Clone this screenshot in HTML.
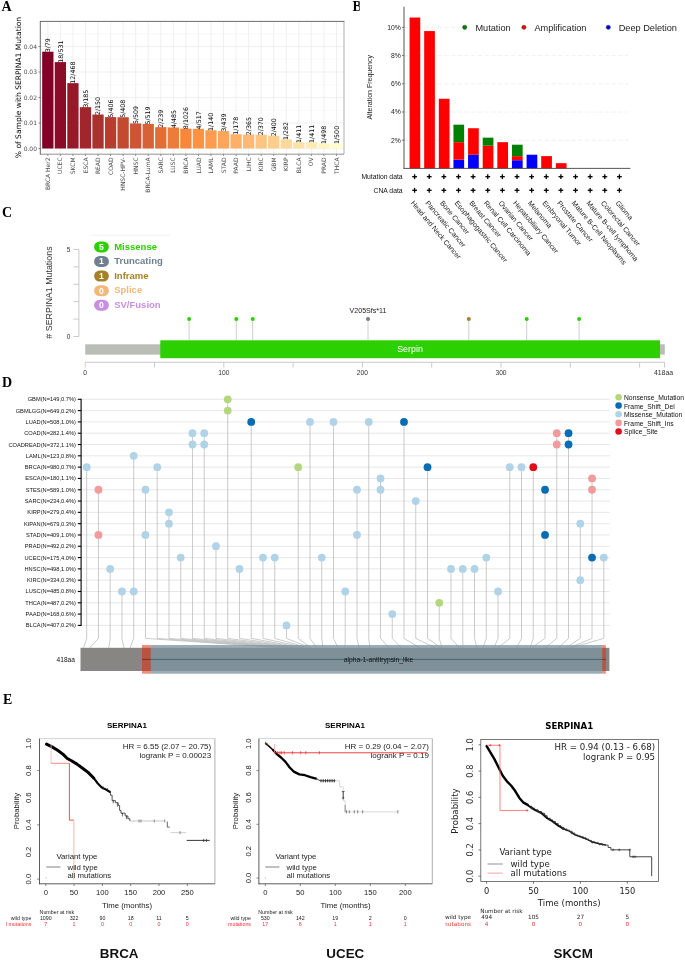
<!DOCTYPE html>
<html lang="en"><head><meta charset="utf-8"><title>SERPINA1 mutation figure</title>
<style>html,body{margin:0;padding:0;background:#fff}svg{display:block}</style></head>
<body>
<svg width="685" height="960" viewBox="0 0 685 960">
<defs><clipPath id="clipB"><rect x="345" y="0" width="14.7" height="20"/></clipPath><clipPath id="clipE1"><rect x="6" y="900" width="60" height="40"/></clipPath><clipPath id="clipE2"><rect x="225.9" y="900" width="60" height="40"/></clipPath><clipPath id="clipE3"><rect x="445.2" y="700" width="60" height="260"/></clipPath></defs>
<rect x="0.00" y="0.00" width="685.00" height="960.00" fill="#fff" />
<rect x="40.30" y="21.40" width="303.70" height="132.80" fill="#fff" />
<line x1="40.30" y1="148.50" x2="344.00" y2="148.50" stroke="#e9e9e9" stroke-width="0.7" />
<line x1="40.30" y1="135.75" x2="344.00" y2="135.75" stroke="#f1f1f1" stroke-width="0.45" />
<line x1="40.30" y1="123.01" x2="344.00" y2="123.01" stroke="#e9e9e9" stroke-width="0.7" />
<line x1="40.30" y1="110.27" x2="344.00" y2="110.27" stroke="#f1f1f1" stroke-width="0.45" />
<line x1="40.30" y1="97.52" x2="344.00" y2="97.52" stroke="#e9e9e9" stroke-width="0.7" />
<line x1="40.30" y1="84.78" x2="344.00" y2="84.78" stroke="#f1f1f1" stroke-width="0.45" />
<line x1="40.30" y1="72.03" x2="344.00" y2="72.03" stroke="#e9e9e9" stroke-width="0.7" />
<line x1="40.30" y1="59.28" x2="344.00" y2="59.28" stroke="#f1f1f1" stroke-width="0.45" />
<line x1="40.30" y1="46.54" x2="344.00" y2="46.54" stroke="#e9e9e9" stroke-width="0.7" />
<line x1="40.30" y1="33.80" x2="344.00" y2="33.80" stroke="#f1f1f1" stroke-width="0.45" />
<line x1="47.83" y1="21.40" x2="47.83" y2="154.20" stroke="#e9e9e9" stroke-width="0.7" />
<line x1="60.38" y1="21.40" x2="60.38" y2="154.20" stroke="#e9e9e9" stroke-width="0.7" />
<line x1="72.93" y1="21.40" x2="72.93" y2="154.20" stroke="#e9e9e9" stroke-width="0.7" />
<line x1="85.48" y1="21.40" x2="85.48" y2="154.20" stroke="#e9e9e9" stroke-width="0.7" />
<line x1="98.03" y1="21.40" x2="98.03" y2="154.20" stroke="#e9e9e9" stroke-width="0.7" />
<line x1="110.58" y1="21.40" x2="110.58" y2="154.20" stroke="#e9e9e9" stroke-width="0.7" />
<line x1="123.13" y1="21.40" x2="123.13" y2="154.20" stroke="#e9e9e9" stroke-width="0.7" />
<line x1="135.68" y1="21.40" x2="135.68" y2="154.20" stroke="#e9e9e9" stroke-width="0.7" />
<line x1="148.23" y1="21.40" x2="148.23" y2="154.20" stroke="#e9e9e9" stroke-width="0.7" />
<line x1="160.78" y1="21.40" x2="160.78" y2="154.20" stroke="#e9e9e9" stroke-width="0.7" />
<line x1="173.33" y1="21.40" x2="173.33" y2="154.20" stroke="#e9e9e9" stroke-width="0.7" />
<line x1="185.88" y1="21.40" x2="185.88" y2="154.20" stroke="#e9e9e9" stroke-width="0.7" />
<line x1="198.42" y1="21.40" x2="198.42" y2="154.20" stroke="#e9e9e9" stroke-width="0.7" />
<line x1="210.97" y1="21.40" x2="210.97" y2="154.20" stroke="#e9e9e9" stroke-width="0.7" />
<line x1="223.52" y1="21.40" x2="223.52" y2="154.20" stroke="#e9e9e9" stroke-width="0.7" />
<line x1="236.07" y1="21.40" x2="236.07" y2="154.20" stroke="#e9e9e9" stroke-width="0.7" />
<line x1="248.62" y1="21.40" x2="248.62" y2="154.20" stroke="#e9e9e9" stroke-width="0.7" />
<line x1="261.17" y1="21.40" x2="261.17" y2="154.20" stroke="#e9e9e9" stroke-width="0.7" />
<line x1="273.72" y1="21.40" x2="273.72" y2="154.20" stroke="#e9e9e9" stroke-width="0.7" />
<line x1="286.27" y1="21.40" x2="286.27" y2="154.20" stroke="#e9e9e9" stroke-width="0.7" />
<line x1="298.82" y1="21.40" x2="298.82" y2="154.20" stroke="#e9e9e9" stroke-width="0.7" />
<line x1="311.37" y1="21.40" x2="311.37" y2="154.20" stroke="#e9e9e9" stroke-width="0.7" />
<line x1="323.92" y1="21.40" x2="323.92" y2="154.20" stroke="#e9e9e9" stroke-width="0.7" />
<line x1="336.47" y1="21.40" x2="336.47" y2="154.20" stroke="#e9e9e9" stroke-width="0.7" />
<rect x="42.18" y="51.70" width="11.29" height="96.80" fill="#800026" />
<text x="50.03" y="52.30" font-size="6.3" font-family="DejaVu Sans, sans-serif" fill="#000" transform="rotate(-90 50.03 52.30)">3/79</text>
<line x1="47.83" y1="154.20" x2="47.83" y2="156.00" stroke="#444" stroke-width="0.6" />
<text x="49.93" y="157.40" font-size="6" font-family="DejaVu Sans, sans-serif" fill="#4d4d4d" text-anchor="end" transform="rotate(-90 49.93 157.40)">BRCA Her2</text>
<rect x="54.73" y="62.09" width="11.29" height="86.41" fill="#8b0c28" />
<text x="62.58" y="62.69" font-size="6.3" font-family="DejaVu Sans, sans-serif" fill="#000" transform="rotate(-90 62.58 62.69)">18/531</text>
<line x1="60.38" y1="154.20" x2="60.38" y2="156.00" stroke="#444" stroke-width="0.6" />
<text x="62.48" y="157.40" font-size="6" font-family="DejaVu Sans, sans-serif" fill="#4d4d4d" text-anchor="end" transform="rotate(-90 62.48 157.40)">UCEC</text>
<rect x="67.28" y="83.14" width="11.29" height="65.36" fill="#96192a" />
<text x="75.13" y="83.74" font-size="6.3" font-family="DejaVu Sans, sans-serif" fill="#000" transform="rotate(-90 75.13 83.74)">12/468</text>
<line x1="72.93" y1="154.20" x2="72.93" y2="156.00" stroke="#444" stroke-width="0.6" />
<text x="75.03" y="157.40" font-size="6" font-family="DejaVu Sans, sans-serif" fill="#4d4d4d" text-anchor="end" transform="rotate(-90 75.03 157.40)">SKCM</text>
<rect x="79.83" y="107.16" width="11.29" height="41.34" fill="#a1252c" />
<text x="87.68" y="107.76" font-size="6.3" font-family="DejaVu Sans, sans-serif" fill="#000" transform="rotate(-90 87.68 107.76)">3/185</text>
<line x1="85.48" y1="154.20" x2="85.48" y2="156.00" stroke="#444" stroke-width="0.6" />
<text x="87.58" y="157.40" font-size="6" font-family="DejaVu Sans, sans-serif" fill="#4d4d4d" text-anchor="end" transform="rotate(-90 87.58 157.40)">ESCA</text>
<rect x="92.38" y="114.51" width="11.29" height="33.99" fill="#ab312e" />
<text x="100.23" y="115.11" font-size="6.3" font-family="DejaVu Sans, sans-serif" fill="#000" transform="rotate(-90 100.23 115.11)">2/150</text>
<line x1="98.03" y1="154.20" x2="98.03" y2="156.00" stroke="#444" stroke-width="0.6" />
<text x="100.13" y="157.40" font-size="6" font-family="DejaVu Sans, sans-serif" fill="#4d4d4d" text-anchor="end" transform="rotate(-90 100.13 157.40)">READ</text>
<rect x="104.93" y="117.11" width="11.29" height="31.39" fill="#b63d30" />
<text x="112.78" y="117.71" font-size="6.3" font-family="DejaVu Sans, sans-serif" fill="#000" transform="rotate(-90 112.78 117.71)">5/406</text>
<line x1="110.58" y1="154.20" x2="110.58" y2="156.00" stroke="#444" stroke-width="0.6" />
<text x="112.68" y="157.40" font-size="6" font-family="DejaVu Sans, sans-serif" fill="#4d4d4d" text-anchor="end" transform="rotate(-90 112.68 157.40)">COAD</text>
<rect x="117.48" y="117.26" width="11.29" height="31.24" fill="#c14a31" />
<text x="125.33" y="117.86" font-size="6.3" font-family="DejaVu Sans, sans-serif" fill="#000" transform="rotate(-90 125.33 117.86)">5/408</text>
<line x1="123.13" y1="154.20" x2="123.13" y2="156.00" stroke="#444" stroke-width="0.6" />
<text x="125.23" y="157.40" font-size="6" font-family="DejaVu Sans, sans-serif" fill="#4d4d4d" text-anchor="end" transform="rotate(-90 125.23 157.40)">HNSC-HPV-</text>
<rect x="130.03" y="123.46" width="11.29" height="25.04" fill="#cc5633" />
<text x="137.88" y="124.06" font-size="6.3" font-family="DejaVu Sans, sans-serif" fill="#000" transform="rotate(-90 137.88 124.06)">5/509</text>
<line x1="135.68" y1="154.20" x2="135.68" y2="156.00" stroke="#444" stroke-width="0.6" />
<text x="137.78" y="157.40" font-size="6" font-family="DejaVu Sans, sans-serif" fill="#4d4d4d" text-anchor="end" transform="rotate(-90 137.78 157.40)">HNSC</text>
<rect x="142.58" y="123.94" width="11.29" height="24.56" fill="#d76235" />
<text x="150.43" y="124.54" font-size="6.3" font-family="DejaVu Sans, sans-serif" fill="#000" transform="rotate(-90 150.43 124.54)">5/519</text>
<line x1="148.23" y1="154.20" x2="148.23" y2="156.00" stroke="#444" stroke-width="0.6" />
<text x="150.33" y="157.40" font-size="6" font-family="DejaVu Sans, sans-serif" fill="#4d4d4d" text-anchor="end" transform="rotate(-90 150.33 157.40)">BRCA-LumA</text>
<rect x="155.13" y="127.17" width="11.29" height="21.33" fill="#e26e37" />
<text x="162.98" y="127.77" font-size="6.3" font-family="DejaVu Sans, sans-serif" fill="#000" transform="rotate(-90 162.98 127.77)">2/239</text>
<line x1="160.78" y1="154.20" x2="160.78" y2="156.00" stroke="#444" stroke-width="0.6" />
<text x="162.88" y="157.40" font-size="6" font-family="DejaVu Sans, sans-serif" fill="#4d4d4d" text-anchor="end" transform="rotate(-90 162.88 157.40)">SARC</text>
<rect x="167.68" y="127.48" width="11.29" height="21.02" fill="#ed7b39" />
<text x="175.53" y="128.08" font-size="6.3" font-family="DejaVu Sans, sans-serif" fill="#000" transform="rotate(-90 175.53 128.08)">4/485</text>
<line x1="173.33" y1="154.20" x2="173.33" y2="156.00" stroke="#444" stroke-width="0.6" />
<text x="175.43" y="157.40" font-size="6" font-family="DejaVu Sans, sans-serif" fill="#4d4d4d" text-anchor="end" transform="rotate(-90 175.43 157.40)">LUSC</text>
<rect x="180.23" y="128.62" width="11.29" height="19.88" fill="#f8873b" />
<text x="188.08" y="129.22" font-size="6.3" font-family="DejaVu Sans, sans-serif" fill="#000" transform="rotate(-90 188.08 129.22)">8/1026</text>
<line x1="185.88" y1="154.20" x2="185.88" y2="156.00" stroke="#444" stroke-width="0.6" />
<text x="187.98" y="157.40" font-size="6" font-family="DejaVu Sans, sans-serif" fill="#4d4d4d" text-anchor="end" transform="rotate(-90 187.98 157.40)">BRCA</text>
<rect x="192.78" y="128.78" width="11.29" height="19.72" fill="#fd9242" />
<text x="200.62" y="129.38" font-size="6.3" font-family="DejaVu Sans, sans-serif" fill="#000" transform="rotate(-90 200.62 129.38)">4/517</text>
<line x1="198.42" y1="154.20" x2="198.42" y2="156.00" stroke="#444" stroke-width="0.6" />
<text x="200.52" y="157.40" font-size="6" font-family="DejaVu Sans, sans-serif" fill="#4d4d4d" text-anchor="end" transform="rotate(-90 200.52 157.40)">LUAD</text>
<rect x="205.33" y="130.29" width="11.29" height="18.21" fill="#fd9c4f" />
<text x="213.17" y="130.89" font-size="6.3" font-family="DejaVu Sans, sans-serif" fill="#000" transform="rotate(-90 213.17 130.89)">1/140</text>
<line x1="210.97" y1="154.20" x2="210.97" y2="156.00" stroke="#444" stroke-width="0.6" />
<text x="213.07" y="157.40" font-size="6" font-family="DejaVu Sans, sans-serif" fill="#4d4d4d" text-anchor="end" transform="rotate(-90 213.07 157.40)">LAML</text>
<rect x="217.88" y="131.08" width="11.29" height="17.42" fill="#fda65b" />
<text x="225.72" y="131.68" font-size="6.3" font-family="DejaVu Sans, sans-serif" fill="#000" transform="rotate(-90 225.72 131.68)">3/439</text>
<line x1="223.52" y1="154.20" x2="223.52" y2="156.00" stroke="#444" stroke-width="0.6" />
<text x="225.62" y="157.40" font-size="6" font-family="DejaVu Sans, sans-serif" fill="#4d4d4d" text-anchor="end" transform="rotate(-90 225.62 157.40)">STAD</text>
<rect x="230.43" y="134.18" width="11.29" height="14.32" fill="#feb068" />
<text x="238.27" y="134.78" font-size="6.3" font-family="DejaVu Sans, sans-serif" fill="#000" transform="rotate(-90 238.27 134.78)">1/178</text>
<line x1="236.07" y1="154.20" x2="236.07" y2="156.00" stroke="#444" stroke-width="0.6" />
<text x="238.17" y="157.40" font-size="6" font-family="DejaVu Sans, sans-serif" fill="#4d4d4d" text-anchor="end" transform="rotate(-90 238.17 157.40)">PAAD</text>
<rect x="242.98" y="134.53" width="11.29" height="13.97" fill="#feba74" />
<text x="250.82" y="135.13" font-size="6.3" font-family="DejaVu Sans, sans-serif" fill="#000" transform="rotate(-90 250.82 135.13)">2/365</text>
<line x1="248.62" y1="154.20" x2="248.62" y2="156.00" stroke="#444" stroke-width="0.6" />
<text x="250.72" y="157.40" font-size="6" font-family="DejaVu Sans, sans-serif" fill="#4d4d4d" text-anchor="end" transform="rotate(-90 250.72 157.40)">LIHC</text>
<rect x="255.53" y="134.72" width="11.29" height="13.78" fill="#fec481" />
<text x="263.37" y="135.32" font-size="6.3" font-family="DejaVu Sans, sans-serif" fill="#000" transform="rotate(-90 263.37 135.32)">2/370</text>
<line x1="261.17" y1="154.20" x2="261.17" y2="156.00" stroke="#444" stroke-width="0.6" />
<text x="263.27" y="157.40" font-size="6" font-family="DejaVu Sans, sans-serif" fill="#4d4d4d" text-anchor="end" transform="rotate(-90 263.27 157.40)">KIRC</text>
<rect x="268.07" y="135.75" width="11.29" height="12.75" fill="#fecd8d" />
<text x="275.92" y="136.35" font-size="6.3" font-family="DejaVu Sans, sans-serif" fill="#000" transform="rotate(-90 275.92 136.35)">2/400</text>
<line x1="273.72" y1="154.20" x2="273.72" y2="156.00" stroke="#444" stroke-width="0.6" />
<text x="275.82" y="157.40" font-size="6" font-family="DejaVu Sans, sans-serif" fill="#4d4d4d" text-anchor="end" transform="rotate(-90 275.82 157.40)">GBM</text>
<rect x="280.62" y="139.46" width="11.29" height="9.04" fill="#fed79a" />
<text x="288.47" y="140.06" font-size="6.3" font-family="DejaVu Sans, sans-serif" fill="#000" transform="rotate(-90 288.47 140.06)">1/282</text>
<line x1="286.27" y1="154.20" x2="286.27" y2="156.00" stroke="#444" stroke-width="0.6" />
<text x="288.37" y="157.40" font-size="6" font-family="DejaVu Sans, sans-serif" fill="#4d4d4d" text-anchor="end" transform="rotate(-90 288.37 157.40)">KIRP</text>
<rect x="293.17" y="142.30" width="11.29" height="6.20" fill="#fee1a6" />
<text x="301.02" y="142.90" font-size="6.3" font-family="DejaVu Sans, sans-serif" fill="#000" transform="rotate(-90 301.02 142.90)">1/411</text>
<line x1="298.82" y1="154.20" x2="298.82" y2="156.00" stroke="#444" stroke-width="0.6" />
<text x="300.92" y="157.40" font-size="6" font-family="DejaVu Sans, sans-serif" fill="#4d4d4d" text-anchor="end" transform="rotate(-90 300.92 157.40)">BLCA</text>
<rect x="305.72" y="142.30" width="11.29" height="6.20" fill="#ffebb3" />
<text x="313.57" y="142.90" font-size="6.3" font-family="DejaVu Sans, sans-serif" fill="#000" transform="rotate(-90 313.57 142.90)">1/411</text>
<line x1="311.37" y1="154.20" x2="311.37" y2="156.00" stroke="#444" stroke-width="0.6" />
<text x="313.47" y="157.40" font-size="6" font-family="DejaVu Sans, sans-serif" fill="#4d4d4d" text-anchor="end" transform="rotate(-90 313.47 157.40)">OV</text>
<rect x="318.27" y="143.38" width="11.29" height="5.12" fill="#fff5bf" />
<text x="326.12" y="143.98" font-size="6.3" font-family="DejaVu Sans, sans-serif" fill="#000" transform="rotate(-90 326.12 143.98)">1/498</text>
<line x1="323.92" y1="154.20" x2="323.92" y2="156.00" stroke="#444" stroke-width="0.6" />
<text x="326.02" y="157.40" font-size="6" font-family="DejaVu Sans, sans-serif" fill="#4d4d4d" text-anchor="end" transform="rotate(-90 326.02 157.40)">PRAD</text>
<rect x="330.82" y="143.40" width="11.29" height="5.10" fill="#ffffcc" />
<text x="338.67" y="144.00" font-size="6.3" font-family="DejaVu Sans, sans-serif" fill="#000" transform="rotate(-90 338.67 144.00)">1/500</text>
<line x1="336.47" y1="154.20" x2="336.47" y2="156.00" stroke="#444" stroke-width="0.6" />
<text x="338.57" y="157.40" font-size="6" font-family="DejaVu Sans, sans-serif" fill="#4d4d4d" text-anchor="end" transform="rotate(-90 338.57 157.40)">THCA</text>
<line x1="40.30" y1="154.20" x2="344.00" y2="154.20" stroke="#777" stroke-width="0.8" />
<line x1="344.00" y1="21.40" x2="344.00" y2="154.20" stroke="#999" stroke-width="0.8" />
<line x1="39.90" y1="21.40" x2="344.40" y2="21.40" stroke="#444" stroke-width="0.8" />
<line x1="40.30" y1="21.40" x2="40.30" y2="154.60" stroke="#444" stroke-width="0.8" />
<line x1="38.50" y1="148.50" x2="40.30" y2="148.50" stroke="#444" stroke-width="0.6" />
<text x="37.00" y="150.60" font-size="6" font-family="DejaVu Sans, sans-serif" fill="#4d4d4d" text-anchor="end">0.00</text>
<line x1="38.50" y1="123.01" x2="40.30" y2="123.01" stroke="#444" stroke-width="0.6" />
<text x="37.00" y="125.11" font-size="6" font-family="DejaVu Sans, sans-serif" fill="#4d4d4d" text-anchor="end">0.01</text>
<line x1="38.50" y1="97.52" x2="40.30" y2="97.52" stroke="#444" stroke-width="0.6" />
<text x="37.00" y="99.62" font-size="6" font-family="DejaVu Sans, sans-serif" fill="#4d4d4d" text-anchor="end">0.02</text>
<line x1="38.50" y1="72.03" x2="40.30" y2="72.03" stroke="#444" stroke-width="0.6" />
<text x="37.00" y="74.13" font-size="6" font-family="DejaVu Sans, sans-serif" fill="#4d4d4d" text-anchor="end">0.03</text>
<line x1="38.50" y1="46.54" x2="40.30" y2="46.54" stroke="#444" stroke-width="0.6" />
<text x="37.00" y="48.64" font-size="6" font-family="DejaVu Sans, sans-serif" fill="#4d4d4d" text-anchor="end">0.04</text>
<text x="20.90" y="87.50" font-size="7.55" font-family="DejaVu Sans, sans-serif" fill="#000" text-anchor="middle" transform="rotate(-90 20.90 87.50)">% of Sample with SERPINA1 Mutation</text>
<line x1="404.00" y1="140.20" x2="628.00" y2="140.20" stroke="#ececec" stroke-width="0.8" stroke-dasharray="4.5 2.2"/>
<line x1="404.00" y1="112.00" x2="628.00" y2="112.00" stroke="#ececec" stroke-width="0.8" stroke-dasharray="4.5 2.2"/>
<line x1="404.00" y1="83.80" x2="628.00" y2="83.80" stroke="#ececec" stroke-width="0.8" stroke-dasharray="4.5 2.2"/>
<line x1="404.00" y1="55.60" x2="628.00" y2="55.60" stroke="#ececec" stroke-width="0.8" stroke-dasharray="4.5 2.2"/>
<line x1="404.00" y1="27.40" x2="628.00" y2="27.40" stroke="#ececec" stroke-width="0.8" stroke-dasharray="4.5 2.2"/>
<rect x="409.55" y="17.53" width="10.70" height="150.87" fill="#ff0000" />
<rect x="424.18" y="31.07" width="10.70" height="137.33" fill="#ff0000" />
<rect x="438.81" y="98.75" width="10.70" height="69.65" fill="#ff0000" />
<rect x="453.44" y="159.66" width="10.70" height="8.74" fill="#0000ff" />
<rect x="453.44" y="142.17" width="10.70" height="17.48" fill="#ff0000" />
<rect x="453.44" y="124.69" width="10.70" height="17.48" fill="#008000" />
<rect x="468.07" y="154.72" width="10.70" height="13.68" fill="#0000ff" />
<rect x="468.07" y="128.22" width="10.70" height="26.51" fill="#ff0000" />
<rect x="482.70" y="145.70" width="10.70" height="22.70" fill="#ff0000" />
<rect x="482.70" y="137.66" width="10.70" height="8.04" fill="#008000" />
<rect x="497.33" y="142.17" width="10.70" height="26.23" fill="#ff0000" />
<rect x="511.96" y="160.22" width="10.70" height="8.18" fill="#0000ff" />
<rect x="511.96" y="156.13" width="10.70" height="4.09" fill="#ff0000" />
<rect x="511.96" y="144.71" width="10.70" height="11.42" fill="#008000" />
<rect x="526.59" y="154.72" width="10.70" height="13.68" fill="#0000ff" />
<rect x="541.22" y="156.13" width="10.70" height="12.27" fill="#ff0000" />
<rect x="555.85" y="163.18" width="10.70" height="5.22" fill="#ff0000" />
<line x1="404.00" y1="6.70" x2="404.00" y2="168.80" stroke="#444" stroke-width="0.9" />
<line x1="403.60" y1="168.40" x2="630.40" y2="168.40" stroke="#444" stroke-width="0.9" />
<line x1="402.00" y1="140.20" x2="404.00" y2="140.20" stroke="#444" stroke-width="0.7" />
<text x="400.80" y="142.60" font-size="6.8" font-family="Liberation Sans, Arial, sans-serif" fill="#222" text-anchor="end">2%</text>
<line x1="402.00" y1="112.00" x2="404.00" y2="112.00" stroke="#444" stroke-width="0.7" />
<text x="400.80" y="114.40" font-size="6.8" font-family="Liberation Sans, Arial, sans-serif" fill="#222" text-anchor="end">4%</text>
<line x1="402.00" y1="83.80" x2="404.00" y2="83.80" stroke="#444" stroke-width="0.7" />
<text x="400.80" y="86.20" font-size="6.8" font-family="Liberation Sans, Arial, sans-serif" fill="#222" text-anchor="end">6%</text>
<line x1="402.00" y1="55.60" x2="404.00" y2="55.60" stroke="#444" stroke-width="0.7" />
<text x="400.80" y="58.00" font-size="6.8" font-family="Liberation Sans, Arial, sans-serif" fill="#222" text-anchor="end">8%</text>
<line x1="402.00" y1="27.40" x2="404.00" y2="27.40" stroke="#444" stroke-width="0.7" />
<text x="400.80" y="29.80" font-size="6.8" font-family="Liberation Sans, Arial, sans-serif" fill="#222" text-anchor="end">10%</text>
<text x="372.30" y="87.30" font-size="7" font-family="Liberation Sans, Arial, sans-serif" fill="#222" text-anchor="middle" transform="rotate(-90 372.30 87.30)">Alteration Frequency</text>
<rect x="460.00" y="19.00" width="225.00" height="16.00" fill="#fff" />
<circle cx="464.70" cy="27.30" r="2.1" fill="#008000" stroke="#333" stroke-width="0.5"/>
<text x="475.40" y="30.50" font-size="9.2" font-family="Liberation Sans, Arial, sans-serif" fill="#222">Mutation</text>
<circle cx="523.90" cy="27.30" r="2.1" fill="#ff0000" stroke="#333" stroke-width="0.5"/>
<text x="534.40" y="30.50" font-size="9.2" font-family="Liberation Sans, Arial, sans-serif" fill="#222">Amplification</text>
<circle cx="608.30" cy="27.30" r="2.1" fill="#0000ff" stroke="#333" stroke-width="0.5"/>
<text x="618.70" y="30.50" font-size="9.2" font-family="Liberation Sans, Arial, sans-serif" fill="#222">Deep Deletion</text>
<text x="402.60" y="179.10" font-size="6.8" font-family="Liberation Sans, Arial, sans-serif" fill="#111" text-anchor="end">Mutation data</text>
<line x1="412.20" y1="176.70" x2="417.00" y2="176.70" stroke="#000" stroke-width="1.3" />
<line x1="414.60" y1="174.30" x2="414.60" y2="179.10" stroke="#000" stroke-width="1.3" />
<line x1="426.83" y1="176.70" x2="431.63" y2="176.70" stroke="#000" stroke-width="1.3" />
<line x1="429.23" y1="174.30" x2="429.23" y2="179.10" stroke="#000" stroke-width="1.3" />
<line x1="441.46" y1="176.70" x2="446.26" y2="176.70" stroke="#000" stroke-width="1.3" />
<line x1="443.86" y1="174.30" x2="443.86" y2="179.10" stroke="#000" stroke-width="1.3" />
<line x1="456.09" y1="176.70" x2="460.89" y2="176.70" stroke="#000" stroke-width="1.3" />
<line x1="458.49" y1="174.30" x2="458.49" y2="179.10" stroke="#000" stroke-width="1.3" />
<line x1="470.72" y1="176.70" x2="475.52" y2="176.70" stroke="#000" stroke-width="1.3" />
<line x1="473.12" y1="174.30" x2="473.12" y2="179.10" stroke="#000" stroke-width="1.3" />
<line x1="485.35" y1="176.70" x2="490.15" y2="176.70" stroke="#000" stroke-width="1.3" />
<line x1="487.75" y1="174.30" x2="487.75" y2="179.10" stroke="#000" stroke-width="1.3" />
<line x1="499.98" y1="176.70" x2="504.78" y2="176.70" stroke="#000" stroke-width="1.3" />
<line x1="502.38" y1="174.30" x2="502.38" y2="179.10" stroke="#000" stroke-width="1.3" />
<line x1="514.61" y1="176.70" x2="519.41" y2="176.70" stroke="#000" stroke-width="1.3" />
<line x1="517.01" y1="174.30" x2="517.01" y2="179.10" stroke="#000" stroke-width="1.3" />
<line x1="529.24" y1="176.70" x2="534.04" y2="176.70" stroke="#000" stroke-width="1.3" />
<line x1="531.64" y1="174.30" x2="531.64" y2="179.10" stroke="#000" stroke-width="1.3" />
<line x1="543.87" y1="176.70" x2="548.67" y2="176.70" stroke="#000" stroke-width="1.3" />
<line x1="546.27" y1="174.30" x2="546.27" y2="179.10" stroke="#000" stroke-width="1.3" />
<line x1="558.50" y1="176.70" x2="563.30" y2="176.70" stroke="#000" stroke-width="1.3" />
<line x1="560.90" y1="174.30" x2="560.90" y2="179.10" stroke="#000" stroke-width="1.3" />
<line x1="573.13" y1="176.70" x2="577.93" y2="176.70" stroke="#000" stroke-width="1.3" />
<line x1="575.53" y1="174.30" x2="575.53" y2="179.10" stroke="#000" stroke-width="1.3" />
<line x1="587.76" y1="176.70" x2="592.56" y2="176.70" stroke="#000" stroke-width="1.3" />
<line x1="590.16" y1="174.30" x2="590.16" y2="179.10" stroke="#000" stroke-width="1.3" />
<line x1="602.39" y1="176.70" x2="607.19" y2="176.70" stroke="#000" stroke-width="1.3" />
<line x1="604.79" y1="174.30" x2="604.79" y2="179.10" stroke="#000" stroke-width="1.3" />
<line x1="617.02" y1="176.70" x2="621.82" y2="176.70" stroke="#000" stroke-width="1.3" />
<line x1="619.42" y1="174.30" x2="619.42" y2="179.10" stroke="#000" stroke-width="1.3" />
<text x="402.60" y="192.70" font-size="6.8" font-family="Liberation Sans, Arial, sans-serif" fill="#111" text-anchor="end">CNA data</text>
<line x1="412.20" y1="190.30" x2="417.00" y2="190.30" stroke="#000" stroke-width="1.3" />
<line x1="414.60" y1="187.90" x2="414.60" y2="192.70" stroke="#000" stroke-width="1.3" />
<line x1="426.83" y1="190.30" x2="431.63" y2="190.30" stroke="#000" stroke-width="1.3" />
<line x1="429.23" y1="187.90" x2="429.23" y2="192.70" stroke="#000" stroke-width="1.3" />
<line x1="441.46" y1="190.30" x2="446.26" y2="190.30" stroke="#000" stroke-width="1.3" />
<line x1="443.86" y1="187.90" x2="443.86" y2="192.70" stroke="#000" stroke-width="1.3" />
<line x1="456.09" y1="190.30" x2="460.89" y2="190.30" stroke="#000" stroke-width="1.3" />
<line x1="458.49" y1="187.90" x2="458.49" y2="192.70" stroke="#000" stroke-width="1.3" />
<line x1="470.72" y1="190.30" x2="475.52" y2="190.30" stroke="#000" stroke-width="1.3" />
<line x1="473.12" y1="187.90" x2="473.12" y2="192.70" stroke="#000" stroke-width="1.3" />
<line x1="485.35" y1="190.30" x2="490.15" y2="190.30" stroke="#000" stroke-width="1.3" />
<line x1="487.75" y1="187.90" x2="487.75" y2="192.70" stroke="#000" stroke-width="1.3" />
<line x1="499.98" y1="190.30" x2="504.78" y2="190.30" stroke="#000" stroke-width="1.3" />
<line x1="502.38" y1="187.90" x2="502.38" y2="192.70" stroke="#000" stroke-width="1.3" />
<line x1="514.61" y1="190.30" x2="519.41" y2="190.30" stroke="#000" stroke-width="1.3" />
<line x1="517.01" y1="187.90" x2="517.01" y2="192.70" stroke="#000" stroke-width="1.3" />
<line x1="529.24" y1="190.30" x2="534.04" y2="190.30" stroke="#000" stroke-width="1.3" />
<line x1="531.64" y1="187.90" x2="531.64" y2="192.70" stroke="#000" stroke-width="1.3" />
<line x1="543.87" y1="190.30" x2="548.67" y2="190.30" stroke="#000" stroke-width="1.3" />
<line x1="546.27" y1="187.90" x2="546.27" y2="192.70" stroke="#000" stroke-width="1.3" />
<line x1="558.50" y1="190.30" x2="563.30" y2="190.30" stroke="#000" stroke-width="1.3" />
<line x1="560.90" y1="187.90" x2="560.90" y2="192.70" stroke="#000" stroke-width="1.3" />
<line x1="573.13" y1="190.30" x2="577.93" y2="190.30" stroke="#000" stroke-width="1.3" />
<line x1="575.53" y1="187.90" x2="575.53" y2="192.70" stroke="#000" stroke-width="1.3" />
<line x1="587.76" y1="190.30" x2="592.56" y2="190.30" stroke="#000" stroke-width="1.3" />
<line x1="590.16" y1="187.90" x2="590.16" y2="192.70" stroke="#000" stroke-width="1.3" />
<line x1="602.39" y1="190.30" x2="607.19" y2="190.30" stroke="#000" stroke-width="1.3" />
<line x1="604.79" y1="187.90" x2="604.79" y2="192.70" stroke="#000" stroke-width="1.3" />
<line x1="617.02" y1="190.30" x2="621.82" y2="190.30" stroke="#000" stroke-width="1.3" />
<line x1="619.42" y1="187.90" x2="619.42" y2="192.70" stroke="#000" stroke-width="1.3" />
<text x="410.40" y="203.20" font-size="7.1" font-family="Liberation Sans, Arial, sans-serif" fill="#222" transform="rotate(50 410.40 203.20)">Head and Neck Cancer</text>
<text x="425.03" y="203.20" font-size="7.1" font-family="Liberation Sans, Arial, sans-serif" fill="#222" transform="rotate(50 425.03 203.20)">Pancreatic Cancer</text>
<text x="439.66" y="203.20" font-size="7.1" font-family="Liberation Sans, Arial, sans-serif" fill="#222" transform="rotate(50 439.66 203.20)">Bone Cancer</text>
<text x="454.29" y="203.20" font-size="7.1" font-family="Liberation Sans, Arial, sans-serif" fill="#222" transform="rotate(50 454.29 203.20)">Esophagogastric Cancer</text>
<text x="468.92" y="203.20" font-size="7.1" font-family="Liberation Sans, Arial, sans-serif" fill="#222" transform="rotate(50 468.92 203.20)">Breast Cancer</text>
<text x="483.55" y="203.20" font-size="7.1" font-family="Liberation Sans, Arial, sans-serif" fill="#222" transform="rotate(50 483.55 203.20)">Renal Cell Carcinoma</text>
<text x="498.18" y="203.20" font-size="7.1" font-family="Liberation Sans, Arial, sans-serif" fill="#222" transform="rotate(50 498.18 203.20)">Ovarian Cancer</text>
<text x="512.81" y="203.20" font-size="7.1" font-family="Liberation Sans, Arial, sans-serif" fill="#222" transform="rotate(50 512.81 203.20)">Hepatobiliary Cancer</text>
<text x="527.44" y="203.20" font-size="7.1" font-family="Liberation Sans, Arial, sans-serif" fill="#222" transform="rotate(50 527.44 203.20)">Melanoma</text>
<text x="542.07" y="203.20" font-size="7.1" font-family="Liberation Sans, Arial, sans-serif" fill="#222" transform="rotate(50 542.07 203.20)">Embryonal Tumor</text>
<text x="556.70" y="203.20" font-size="7.1" font-family="Liberation Sans, Arial, sans-serif" fill="#222" transform="rotate(50 556.70 203.20)">Prostate Cancer</text>
<text x="571.33" y="203.20" font-size="7.1" font-family="Liberation Sans, Arial, sans-serif" fill="#222" transform="rotate(50 571.33 203.20)">Mature B-Cell Neoplasms</text>
<text x="585.96" y="203.20" font-size="7.1" font-family="Liberation Sans, Arial, sans-serif" fill="#222" transform="rotate(50 585.96 203.20)">Mature B-cell lymphoma</text>
<text x="600.59" y="203.20" font-size="7.1" font-family="Liberation Sans, Arial, sans-serif" fill="#222" transform="rotate(50 600.59 203.20)">Colorectal Cancer</text>
<text x="615.22" y="203.20" font-size="7.1" font-family="Liberation Sans, Arial, sans-serif" fill="#222" transform="rotate(50 615.22 203.20)">Glioma</text>
<line x1="90.80" y1="235.20" x2="170.00" y2="235.20" stroke="#eee" stroke-width="0.8" />
<line x1="78.90" y1="249.40" x2="78.90" y2="336.50" stroke="#c4c4c4" stroke-width="0.9" />
<line x1="73.40" y1="336.50" x2="78.90" y2="336.50" stroke="#c4c4c4" stroke-width="0.9" />
<line x1="73.40" y1="319.08" x2="78.90" y2="319.08" stroke="#c4c4c4" stroke-width="0.9" />
<line x1="73.40" y1="301.66" x2="78.90" y2="301.66" stroke="#c4c4c4" stroke-width="0.9" />
<line x1="73.40" y1="284.24" x2="78.90" y2="284.24" stroke="#c4c4c4" stroke-width="0.9" />
<line x1="73.40" y1="266.82" x2="78.90" y2="266.82" stroke="#c4c4c4" stroke-width="0.9" />
<line x1="73.40" y1="249.40" x2="78.90" y2="249.40" stroke="#c4c4c4" stroke-width="0.9" />
<text x="68.50" y="252.00" font-size="6.5" font-family="Liberation Sans, Arial, sans-serif" fill="#333" text-anchor="middle">5</text>
<text x="68.50" y="339.00" font-size="6.5" font-family="Liberation Sans, Arial, sans-serif" fill="#333" text-anchor="middle">0</text>
<text x="51.80" y="292.50" font-size="8.9" font-family="Liberation Sans, Arial, sans-serif" fill="#333" text-anchor="middle" transform="rotate(-90 51.80 292.50)"># SERPINA1 Mutations</text>
<rect x="94.10" y="241.40" width="14.8" height="11" rx="5.5" ry="5.5" fill="#2dcf00"/>
<text x="101.50" y="249.90" font-size="8.6" font-family="Liberation Sans, Arial, sans-serif" fill="#fff" text-anchor="middle" font-weight="bold">5</text>
<text x="114.20" y="249.50" font-size="9.5" font-family="Liberation Sans, Arial, sans-serif" fill="#2dcf00" font-weight="bold">Missense</text>
<rect x="94.10" y="255.98" width="14.8" height="11" rx="5.5" ry="5.5" fill="#708090"/>
<text x="101.50" y="264.48" font-size="8.6" font-family="Liberation Sans, Arial, sans-serif" fill="#fff" text-anchor="middle" font-weight="bold">1</text>
<text x="114.20" y="264.08" font-size="9.5" font-family="Liberation Sans, Arial, sans-serif" fill="#708090" font-weight="bold">Truncating</text>
<rect x="94.10" y="270.56" width="14.8" height="11" rx="5.5" ry="5.5" fill="#a68028"/>
<text x="101.50" y="279.06" font-size="8.6" font-family="Liberation Sans, Arial, sans-serif" fill="#fff" text-anchor="middle" font-weight="bold">1</text>
<text x="114.20" y="278.66" font-size="9.5" font-family="Liberation Sans, Arial, sans-serif" fill="#a68028" font-weight="bold">Inframe</text>
<rect x="94.10" y="285.14" width="14.8" height="11" rx="5.5" ry="5.5" fill="#f0b87b"/>
<text x="101.50" y="293.64" font-size="8.6" font-family="Liberation Sans, Arial, sans-serif" fill="#fff" text-anchor="middle" font-weight="bold">0</text>
<text x="114.20" y="293.24" font-size="9.5" font-family="Liberation Sans, Arial, sans-serif" fill="#f0b87b" font-weight="bold">Splice</text>
<rect x="94.10" y="299.72" width="14.8" height="11" rx="5.5" ry="5.5" fill="#c88fe0"/>
<text x="101.50" y="308.22" font-size="8.6" font-family="Liberation Sans, Arial, sans-serif" fill="#fff" text-anchor="middle" font-weight="bold">0</text>
<text x="114.20" y="307.82" font-size="9.5" font-family="Liberation Sans, Arial, sans-serif" fill="#c88fe0" font-weight="bold">SV/Fusion</text>
<line x1="189.10" y1="319.08" x2="189.10" y2="341.00" stroke="#c8c8c8" stroke-width="0.9" />
<circle cx="189.10" cy="319.08" r="2.0" fill="#2dcf00" />
<line x1="236.30" y1="319.08" x2="236.30" y2="341.00" stroke="#c8c8c8" stroke-width="0.9" />
<circle cx="236.30" cy="319.08" r="2.0" fill="#2dcf00" />
<line x1="252.70" y1="319.08" x2="252.70" y2="341.00" stroke="#c8c8c8" stroke-width="0.9" />
<circle cx="252.70" cy="319.08" r="2.0" fill="#2dcf00" />
<line x1="368.00" y1="319.08" x2="368.00" y2="341.00" stroke="#c8c8c8" stroke-width="0.9" />
<circle cx="368.00" cy="319.08" r="2.0" fill="#708090" />
<line x1="468.80" y1="319.08" x2="468.80" y2="341.00" stroke="#c8c8c8" stroke-width="0.9" />
<circle cx="468.80" cy="319.08" r="2.0" fill="#a68028" />
<line x1="526.70" y1="319.08" x2="526.70" y2="341.00" stroke="#c8c8c8" stroke-width="0.9" />
<circle cx="526.70" cy="319.08" r="2.0" fill="#2dcf00" />
<line x1="579.10" y1="319.08" x2="579.10" y2="341.00" stroke="#c8c8c8" stroke-width="0.9" />
<circle cx="579.10" cy="319.08" r="2.0" fill="#2dcf00" />
<text x="368.00" y="313.40" font-size="7.1" font-family="Liberation Sans, Arial, sans-serif" fill="#222" text-anchor="middle">V205Sfs*11</text>
<rect x="85.20" y="344.30" width="579.60" height="10.30" fill="#babdb6" />
<rect x="160.30" y="340.30" width="499.70" height="17.90" fill="#2dcf00" />
<text x="410.00" y="352.10" font-size="8.9" font-family="Liberation Sans, Arial, sans-serif" fill="#fff" text-anchor="middle">Serpin</text>
<line x1="85.20" y1="362.30" x2="664.50" y2="362.30" stroke="#c4c4c4" stroke-width="0.9" />
<line x1="85.20" y1="362.30" x2="85.20" y2="367.50" stroke="#c4c4c4" stroke-width="0.9" />
<line x1="154.50" y1="362.30" x2="154.50" y2="367.50" stroke="#c4c4c4" stroke-width="0.9" />
<line x1="223.80" y1="362.30" x2="223.80" y2="367.50" stroke="#c4c4c4" stroke-width="0.9" />
<line x1="293.10" y1="362.30" x2="293.10" y2="367.50" stroke="#c4c4c4" stroke-width="0.9" />
<line x1="362.40" y1="362.30" x2="362.40" y2="367.50" stroke="#c4c4c4" stroke-width="0.9" />
<line x1="431.70" y1="362.30" x2="431.70" y2="367.50" stroke="#c4c4c4" stroke-width="0.9" />
<line x1="501.00" y1="362.30" x2="501.00" y2="367.50" stroke="#c4c4c4" stroke-width="0.9" />
<line x1="570.30" y1="362.30" x2="570.30" y2="367.50" stroke="#c4c4c4" stroke-width="0.9" />
<line x1="639.60" y1="362.30" x2="639.60" y2="367.50" stroke="#c4c4c4" stroke-width="0.9" />
<line x1="664.55" y1="362.30" x2="664.55" y2="367.50" stroke="#c4c4c4" stroke-width="0.9" />
<text x="85.20" y="374.50" font-size="6.7" font-family="Liberation Sans, Arial, sans-serif" fill="#333" text-anchor="middle">0</text>
<text x="223.80" y="374.50" font-size="6.7" font-family="Liberation Sans, Arial, sans-serif" fill="#333" text-anchor="middle">100</text>
<text x="362.40" y="374.50" font-size="6.7" font-family="Liberation Sans, Arial, sans-serif" fill="#333" text-anchor="middle">200</text>
<text x="501.00" y="374.50" font-size="6.7" font-family="Liberation Sans, Arial, sans-serif" fill="#333" text-anchor="middle">300</text>
<text x="663.50" y="374.50" font-size="6.9" font-family="Liberation Sans, Arial, sans-serif" fill="#333" text-anchor="middle">418aa</text>
<line x1="81.10" y1="399.30" x2="609.80" y2="399.30" stroke="#e4e4e4" stroke-width="0.9" />
<line x1="81.10" y1="410.61" x2="609.80" y2="410.61" stroke="#e4e4e4" stroke-width="0.9" />
<line x1="81.10" y1="421.91" x2="609.80" y2="421.91" stroke="#e4e4e4" stroke-width="0.9" />
<line x1="81.10" y1="433.22" x2="609.80" y2="433.22" stroke="#e4e4e4" stroke-width="0.9" />
<line x1="81.10" y1="444.52" x2="609.80" y2="444.52" stroke="#e4e4e4" stroke-width="0.9" />
<line x1="81.10" y1="455.82" x2="609.80" y2="455.82" stroke="#e4e4e4" stroke-width="0.9" />
<line x1="81.10" y1="467.13" x2="609.80" y2="467.13" stroke="#e4e4e4" stroke-width="0.9" />
<line x1="81.10" y1="478.44" x2="609.80" y2="478.44" stroke="#e4e4e4" stroke-width="0.9" />
<line x1="81.10" y1="489.74" x2="609.80" y2="489.74" stroke="#e4e4e4" stroke-width="0.9" />
<line x1="81.10" y1="501.05" x2="609.80" y2="501.05" stroke="#e4e4e4" stroke-width="0.9" />
<line x1="81.10" y1="512.35" x2="609.80" y2="512.35" stroke="#e4e4e4" stroke-width="0.9" />
<line x1="81.10" y1="523.65" x2="609.80" y2="523.65" stroke="#e4e4e4" stroke-width="0.9" />
<line x1="81.10" y1="534.96" x2="609.80" y2="534.96" stroke="#e4e4e4" stroke-width="0.9" />
<line x1="81.10" y1="546.26" x2="609.80" y2="546.26" stroke="#e4e4e4" stroke-width="0.9" />
<line x1="81.10" y1="557.57" x2="609.80" y2="557.57" stroke="#e4e4e4" stroke-width="0.9" />
<line x1="81.10" y1="568.88" x2="609.80" y2="568.88" stroke="#e4e4e4" stroke-width="0.9" />
<line x1="81.10" y1="580.18" x2="609.80" y2="580.18" stroke="#e4e4e4" stroke-width="0.9" />
<line x1="81.10" y1="591.49" x2="609.80" y2="591.49" stroke="#e4e4e4" stroke-width="0.9" />
<line x1="81.10" y1="602.79" x2="609.80" y2="602.79" stroke="#e4e4e4" stroke-width="0.9" />
<line x1="81.10" y1="614.10" x2="609.80" y2="614.10" stroke="#e4e4e4" stroke-width="0.9" />
<line x1="81.10" y1="625.40" x2="609.80" y2="625.40" stroke="#e4e4e4" stroke-width="0.9" />
<polyline points="86.70,467.13 86.70,638.40 83.50,647.80" fill="none" stroke="#b9b9b9" stroke-width="0.75"/>
<polyline points="98.45,489.74 98.45,638.40 89.80,647.80" fill="none" stroke="#b9b9b9" stroke-width="0.75"/>
<polyline points="110.20,568.88 110.20,638.40 108.80,647.80" fill="none" stroke="#b9b9b9" stroke-width="0.75"/>
<polyline points="121.96,591.49 121.96,638.40 123.90,647.80" fill="none" stroke="#b9b9b9" stroke-width="0.75"/>
<polyline points="133.71,455.82 133.71,638.40 130.10,647.80" fill="none" stroke="#b9b9b9" stroke-width="0.75"/>
<polyline points="145.46,489.74 145.46,638.40 283.00,647.80" fill="none" stroke="#b9b9b9" stroke-width="0.75"/>
<polyline points="157.21,467.13 157.21,638.40 285.30,647.80" fill="none" stroke="#b9b9b9" stroke-width="0.75"/>
<polyline points="168.96,512.35 168.96,638.40 287.60,647.80" fill="none" stroke="#b9b9b9" stroke-width="0.75"/>
<polyline points="180.72,557.57 180.72,638.40 289.90,647.80" fill="none" stroke="#b9b9b9" stroke-width="0.75"/>
<polyline points="192.47,433.22 192.47,638.40 292.20,647.80" fill="none" stroke="#b9b9b9" stroke-width="0.75"/>
<polyline points="204.22,433.22 204.22,638.40 294.50,647.80" fill="none" stroke="#b9b9b9" stroke-width="0.75"/>
<polyline points="215.97,546.26 215.97,638.40 296.80,647.80" fill="none" stroke="#b9b9b9" stroke-width="0.75"/>
<polyline points="227.72,399.30 227.72,638.40 299.10,647.80" fill="none" stroke="#b9b9b9" stroke-width="0.75"/>
<polyline points="239.48,568.88 239.48,638.40 301.40,647.80" fill="none" stroke="#b9b9b9" stroke-width="0.75"/>
<polyline points="251.23,421.91 251.23,638.40 303.70,647.80" fill="none" stroke="#b9b9b9" stroke-width="0.75"/>
<polyline points="262.98,557.57 262.98,638.40 306.00,647.80" fill="none" stroke="#b9b9b9" stroke-width="0.75"/>
<polyline points="274.73,557.57 274.73,638.40 308.30,647.80" fill="none" stroke="#b9b9b9" stroke-width="0.75"/>
<polyline points="286.48,625.40 286.48,638.40 310.60,647.80" fill="none" stroke="#b9b9b9" stroke-width="0.75"/>
<polyline points="298.24,467.13 298.24,638.40 311.00,647.80" fill="none" stroke="#b9b9b9" stroke-width="0.75"/>
<polyline points="309.99,421.91 309.99,638.40 317.00,647.80" fill="none" stroke="#b9b9b9" stroke-width="0.75"/>
<polyline points="321.74,557.57 321.74,638.40 323.00,647.80" fill="none" stroke="#b9b9b9" stroke-width="0.75"/>
<polyline points="333.49,421.91 333.49,638.40 338.00,647.80" fill="none" stroke="#b9b9b9" stroke-width="0.75"/>
<polyline points="345.24,591.49 345.24,638.40 345.00,647.80" fill="none" stroke="#b9b9b9" stroke-width="0.75"/>
<polyline points="357.00,489.74 357.00,638.40 359.00,647.80" fill="none" stroke="#b9b9b9" stroke-width="0.75"/>
<polyline points="368.75,421.91 368.75,638.40 370.00,647.80" fill="none" stroke="#b9b9b9" stroke-width="0.75"/>
<polyline points="380.50,478.44 380.50,638.40 389.00,647.80" fill="none" stroke="#b9b9b9" stroke-width="0.75"/>
<polyline points="392.25,614.10 392.25,638.40 401.00,647.80" fill="none" stroke="#b9b9b9" stroke-width="0.75"/>
<polyline points="404.00,421.91 404.00,638.40 420.00,647.80" fill="none" stroke="#b9b9b9" stroke-width="0.75"/>
<polyline points="415.76,501.05 415.76,638.40 435.00,647.80" fill="none" stroke="#b9b9b9" stroke-width="0.75"/>
<polyline points="427.51,467.13 427.51,638.40 441.00,647.80" fill="none" stroke="#b9b9b9" stroke-width="0.75"/>
<polyline points="439.26,602.79 439.26,638.40 442.00,647.80" fill="none" stroke="#b9b9b9" stroke-width="0.75"/>
<polyline points="451.01,568.88 451.01,638.40 459.50,647.80" fill="none" stroke="#b9b9b9" stroke-width="0.75"/>
<polyline points="462.76,568.88 462.76,638.40 463.00,647.80" fill="none" stroke="#b9b9b9" stroke-width="0.75"/>
<polyline points="474.52,568.88 474.52,638.40 477.00,647.80" fill="none" stroke="#b9b9b9" stroke-width="0.75"/>
<polyline points="486.27,557.57 486.27,638.40 483.00,647.80" fill="none" stroke="#b9b9b9" stroke-width="0.75"/>
<polyline points="498.02,591.49 498.02,638.40 494.00,647.80" fill="none" stroke="#b9b9b9" stroke-width="0.75"/>
<polyline points="509.77,467.13 509.77,638.40 498.00,647.80" fill="none" stroke="#b9b9b9" stroke-width="0.75"/>
<polyline points="521.52,467.13 521.52,638.40 516.50,647.80" fill="none" stroke="#b9b9b9" stroke-width="0.75"/>
<polyline points="533.28,467.13 533.28,638.40 530.00,647.80" fill="none" stroke="#b9b9b9" stroke-width="0.75"/>
<polyline points="545.03,489.74 545.03,638.40 531.50,647.80" fill="none" stroke="#b9b9b9" stroke-width="0.75"/>
<polyline points="556.78,433.22 556.78,638.40 545.00,647.80" fill="none" stroke="#b9b9b9" stroke-width="0.75"/>
<polyline points="568.53,433.22 568.53,638.40 558.50,647.80" fill="none" stroke="#b9b9b9" stroke-width="0.75"/>
<polyline points="580.28,523.65 580.28,638.40 566.00,647.80" fill="none" stroke="#b9b9b9" stroke-width="0.75"/>
<polyline points="592.04,478.44 592.04,638.40 569.50,647.80" fill="none" stroke="#b9b9b9" stroke-width="0.75"/>
<polyline points="603.79,557.57 603.79,638.40 571.00,647.80" fill="none" stroke="#b9b9b9" stroke-width="0.75"/>
<circle cx="86.70" cy="467.13" r="3.9" fill="#b0d3e8" />
<circle cx="98.45" cy="489.74" r="3.9" fill="#f09c9c" />
<circle cx="98.45" cy="534.96" r="3.9" fill="#f09c9c" />
<circle cx="110.20" cy="568.88" r="3.9" fill="#b0d3e8" />
<circle cx="121.96" cy="591.49" r="3.9" fill="#b0d3e8" />
<circle cx="133.71" cy="455.82" r="3.9" fill="#b0d3e8" />
<circle cx="133.71" cy="591.49" r="3.9" fill="#b0d3e8" />
<circle cx="145.46" cy="489.74" r="3.9" fill="#b0d3e8" />
<circle cx="145.46" cy="534.96" r="3.9" fill="#b0d3e8" />
<circle cx="157.21" cy="467.13" r="3.9" fill="#b0d3e8" />
<circle cx="168.96" cy="512.35" r="3.9" fill="#b0d3e8" />
<circle cx="168.96" cy="523.65" r="3.9" fill="#b0d3e8" />
<circle cx="180.72" cy="557.57" r="3.9" fill="#b0d3e8" />
<circle cx="192.47" cy="433.22" r="3.9" fill="#b0d3e8" />
<circle cx="192.47" cy="444.52" r="3.9" fill="#b0d3e8" />
<circle cx="204.22" cy="433.22" r="3.9" fill="#b0d3e8" />
<circle cx="204.22" cy="444.52" r="3.9" fill="#b0d3e8" />
<circle cx="215.97" cy="546.26" r="3.9" fill="#b0d3e8" />
<circle cx="227.72" cy="399.30" r="3.9" fill="#b4d77e" />
<circle cx="227.72" cy="410.61" r="3.9" fill="#b4d77e" />
<circle cx="239.48" cy="568.88" r="3.9" fill="#b0d3e8" />
<circle cx="251.23" cy="421.91" r="3.9" fill="#0a6cb3" />
<circle cx="262.98" cy="557.57" r="3.9" fill="#b0d3e8" />
<circle cx="274.73" cy="557.57" r="3.9" fill="#b0d3e8" />
<circle cx="286.48" cy="625.40" r="3.9" fill="#b0d3e8" />
<circle cx="298.24" cy="467.13" r="3.9" fill="#b4d77e" />
<circle cx="309.99" cy="421.91" r="3.9" fill="#b0d3e8" />
<circle cx="321.74" cy="557.57" r="3.9" fill="#b0d3e8" />
<circle cx="333.49" cy="421.91" r="3.9" fill="#b0d3e8" />
<circle cx="345.24" cy="591.49" r="3.9" fill="#b0d3e8" />
<circle cx="357.00" cy="489.74" r="3.9" fill="#b0d3e8" />
<circle cx="357.00" cy="534.96" r="3.9" fill="#b0d3e8" />
<circle cx="368.75" cy="421.91" r="3.9" fill="#b0d3e8" />
<circle cx="380.50" cy="478.44" r="3.9" fill="#b0d3e8" />
<circle cx="380.50" cy="489.74" r="3.9" fill="#b0d3e8" />
<circle cx="392.25" cy="614.10" r="3.9" fill="#b0d3e8" />
<circle cx="404.00" cy="421.91" r="3.9" fill="#0a6cb3" />
<circle cx="415.76" cy="501.05" r="3.9" fill="#b0d3e8" />
<circle cx="427.51" cy="467.13" r="3.9" fill="#0a6cb3" />
<circle cx="439.26" cy="602.79" r="3.9" fill="#b4d77e" />
<circle cx="451.01" cy="568.88" r="3.9" fill="#b0d3e8" />
<circle cx="462.76" cy="568.88" r="3.9" fill="#b0d3e8" />
<circle cx="474.52" cy="568.88" r="3.9" fill="#b0d3e8" />
<circle cx="486.27" cy="557.57" r="3.9" fill="#b0d3e8" />
<circle cx="498.02" cy="591.49" r="3.9" fill="#b0d3e8" />
<circle cx="509.77" cy="467.13" r="3.9" fill="#b0d3e8" />
<circle cx="521.52" cy="467.13" r="3.9" fill="#b0d3e8" />
<circle cx="533.28" cy="467.13" r="3.9" fill="#e20d1b" />
<circle cx="545.03" cy="489.74" r="3.9" fill="#0a6cb3" />
<circle cx="545.03" cy="534.96" r="3.9" fill="#0a6cb3" />
<circle cx="556.78" cy="433.22" r="3.9" fill="#f09c9c" />
<circle cx="556.78" cy="444.52" r="3.9" fill="#f09c9c" />
<circle cx="568.53" cy="433.22" r="3.9" fill="#0a6cb3" />
<circle cx="568.53" cy="444.52" r="3.9" fill="#0a6cb3" />
<circle cx="580.28" cy="523.65" r="3.9" fill="#b0d3e8" />
<circle cx="580.28" cy="580.18" r="3.9" fill="#b0d3e8" />
<circle cx="592.04" cy="478.44" r="3.9" fill="#f09c9c" />
<circle cx="592.04" cy="489.74" r="3.9" fill="#f09c9c" />
<circle cx="592.04" cy="557.57" r="3.9" fill="#0a6cb3" />
<circle cx="603.79" cy="557.57" r="3.9" fill="#b0d3e8" />
<line x1="81.10" y1="398.80" x2="81.10" y2="625.90" stroke="#000" stroke-width="1.1" />
<line x1="77.80" y1="399.30" x2="81.10" y2="399.30" stroke="#000" stroke-width="1.1" />
<text x="75.90" y="401.30" font-size="5.7" font-family="Liberation Sans, Arial, sans-serif" fill="#111" text-anchor="end">GBM(N=149,0.7%)</text>
<line x1="77.80" y1="410.61" x2="81.10" y2="410.61" stroke="#000" stroke-width="1.1" />
<text x="75.90" y="412.61" font-size="5.7" font-family="Liberation Sans, Arial, sans-serif" fill="#111" text-anchor="end">GBMLGG(N=649,0.2%)</text>
<line x1="77.80" y1="421.91" x2="81.10" y2="421.91" stroke="#000" stroke-width="1.1" />
<text x="75.90" y="423.91" font-size="5.7" font-family="Liberation Sans, Arial, sans-serif" fill="#111" text-anchor="end">LUAD(N=508,1.0%)</text>
<line x1="77.80" y1="433.22" x2="81.10" y2="433.22" stroke="#000" stroke-width="1.1" />
<text x="75.90" y="435.22" font-size="5.7" font-family="Liberation Sans, Arial, sans-serif" fill="#111" text-anchor="end">COAD(N=282,1.4%)</text>
<line x1="77.80" y1="444.52" x2="81.10" y2="444.52" stroke="#000" stroke-width="1.1" />
<text x="75.90" y="446.52" font-size="5.7" font-family="Liberation Sans, Arial, sans-serif" fill="#111" text-anchor="end">COADREAD(N=372,1.1%)</text>
<line x1="77.80" y1="455.82" x2="81.10" y2="455.82" stroke="#000" stroke-width="1.1" />
<text x="75.90" y="457.82" font-size="5.7" font-family="Liberation Sans, Arial, sans-serif" fill="#111" text-anchor="end">LAML(N=123,0.8%)</text>
<line x1="77.80" y1="467.13" x2="81.10" y2="467.13" stroke="#000" stroke-width="1.1" />
<text x="75.90" y="469.13" font-size="5.7" font-family="Liberation Sans, Arial, sans-serif" fill="#111" text-anchor="end">BRCA(N=980,0.7%)</text>
<line x1="77.80" y1="478.44" x2="81.10" y2="478.44" stroke="#000" stroke-width="1.1" />
<text x="75.90" y="480.44" font-size="5.7" font-family="Liberation Sans, Arial, sans-serif" fill="#111" text-anchor="end">ESCA(N=180,1.1%)</text>
<line x1="77.80" y1="489.74" x2="81.10" y2="489.74" stroke="#000" stroke-width="1.1" />
<text x="75.90" y="491.74" font-size="5.7" font-family="Liberation Sans, Arial, sans-serif" fill="#111" text-anchor="end">STES(N=589,1.0%)</text>
<line x1="77.80" y1="501.05" x2="81.10" y2="501.05" stroke="#000" stroke-width="1.1" />
<text x="75.90" y="503.05" font-size="5.7" font-family="Liberation Sans, Arial, sans-serif" fill="#111" text-anchor="end">SARC(N=234,0.4%)</text>
<line x1="77.80" y1="512.35" x2="81.10" y2="512.35" stroke="#000" stroke-width="1.1" />
<text x="75.90" y="514.35" font-size="5.7" font-family="Liberation Sans, Arial, sans-serif" fill="#111" text-anchor="end">KIRP(N=279,0.4%)</text>
<line x1="77.80" y1="523.65" x2="81.10" y2="523.65" stroke="#000" stroke-width="1.1" />
<text x="75.90" y="525.65" font-size="5.7" font-family="Liberation Sans, Arial, sans-serif" fill="#111" text-anchor="end">KIPAN(N=679,0.3%)</text>
<line x1="77.80" y1="534.96" x2="81.10" y2="534.96" stroke="#000" stroke-width="1.1" />
<text x="75.90" y="536.96" font-size="5.7" font-family="Liberation Sans, Arial, sans-serif" fill="#111" text-anchor="end">STAD(N=409,1.0%)</text>
<line x1="77.80" y1="546.26" x2="81.10" y2="546.26" stroke="#000" stroke-width="1.1" />
<text x="75.90" y="548.26" font-size="5.7" font-family="Liberation Sans, Arial, sans-serif" fill="#111" text-anchor="end">PRAD(N=492,0.2%)</text>
<line x1="77.80" y1="557.57" x2="81.10" y2="557.57" stroke="#000" stroke-width="1.1" />
<text x="75.90" y="559.57" font-size="5.7" font-family="Liberation Sans, Arial, sans-serif" fill="#111" text-anchor="end">UCEC(N=175,4.0%)</text>
<line x1="77.80" y1="568.88" x2="81.10" y2="568.88" stroke="#000" stroke-width="1.1" />
<text x="75.90" y="570.88" font-size="5.7" font-family="Liberation Sans, Arial, sans-serif" fill="#111" text-anchor="end">HNSC(N=498,1.0%)</text>
<line x1="77.80" y1="580.18" x2="81.10" y2="580.18" stroke="#000" stroke-width="1.1" />
<text x="75.90" y="582.18" font-size="5.7" font-family="Liberation Sans, Arial, sans-serif" fill="#111" text-anchor="end">KIRC(N=334,0.3%)</text>
<line x1="77.80" y1="591.49" x2="81.10" y2="591.49" stroke="#000" stroke-width="1.1" />
<text x="75.90" y="593.49" font-size="5.7" font-family="Liberation Sans, Arial, sans-serif" fill="#111" text-anchor="end">LUSC(N=485,0.8%)</text>
<line x1="77.80" y1="602.79" x2="81.10" y2="602.79" stroke="#000" stroke-width="1.1" />
<text x="75.90" y="604.79" font-size="5.7" font-family="Liberation Sans, Arial, sans-serif" fill="#111" text-anchor="end">THCA(N=487,0.2%)</text>
<line x1="77.80" y1="614.10" x2="81.10" y2="614.10" stroke="#000" stroke-width="1.1" />
<text x="75.90" y="616.10" font-size="5.7" font-family="Liberation Sans, Arial, sans-serif" fill="#111" text-anchor="end">PAAD(N=168,0.6%)</text>
<line x1="77.80" y1="625.40" x2="81.10" y2="625.40" stroke="#000" stroke-width="1.1" />
<text x="75.90" y="627.40" font-size="5.7" font-family="Liberation Sans, Arial, sans-serif" fill="#111" text-anchor="end">BLCA(N=407,0.2%)</text>
<circle cx="618.60" cy="397.20" r="3.3" fill="#b4d77e" />
<text x="624.00" y="400.10" font-size="6.75" font-family="Liberation Sans, Arial, sans-serif" fill="#111">Nonsense_Mutation</text>
<circle cx="618.60" cy="405.60" r="3.3" fill="#0a6cb3" />
<text x="624.00" y="408.50" font-size="6.75" font-family="Liberation Sans, Arial, sans-serif" fill="#111">Frame_Shift_Del</text>
<circle cx="618.60" cy="414.20" r="3.3" fill="#b0d3e8" />
<text x="624.00" y="417.10" font-size="6.75" font-family="Liberation Sans, Arial, sans-serif" fill="#111">Missense_Mutation</text>
<circle cx="618.60" cy="422.90" r="3.3" fill="#f09c9c" />
<text x="624.00" y="425.80" font-size="6.75" font-family="Liberation Sans, Arial, sans-serif" fill="#111">Frame_Shift_Ins</text>
<circle cx="618.60" cy="431.50" r="3.3" fill="#e20d1b" />
<text x="624.00" y="434.40" font-size="6.75" font-family="Liberation Sans, Arial, sans-serif" fill="#111">Splice_Site</text>
<rect x="80.50" y="647.80" width="528.90" height="23.20" fill="#888683" />
<rect x="150.70" y="645.00" width="451.60" height="28.70" fill="#7e939e" fill-opacity="0.773"/>
<rect x="142.00" y="645.00" width="8.70" height="28.70" fill="#de2808" fill-opacity="0.52"/>
<rect x="602.30" y="645.00" width="3.50" height="28.70" fill="#de2808" fill-opacity="0.52"/>
<line x1="142.00" y1="659.40" x2="150.70" y2="659.40" stroke="#6e2318" stroke-width="0.8" />
<line x1="150.70" y1="659.40" x2="602.30" y2="659.40" stroke="#2b5d6b" stroke-width="0.8" />
<line x1="602.30" y1="659.40" x2="605.80" y2="659.40" stroke="#6e2318" stroke-width="0.8" />
<text x="74.90" y="662.40" font-size="6.6" font-family="Liberation Sans, Arial, sans-serif" fill="#111" text-anchor="end">418aa</text>
<text x="378.50" y="661.80" font-size="6.75" font-family="Liberation Sans, Arial, sans-serif" fill="#111" text-anchor="middle">alpha-1-antitrypsin_like</text>
<line x1="39.50" y1="738.60" x2="214.90" y2="738.60" stroke="#c8c8c8" stroke-width="0.8" />
<line x1="214.90" y1="738.60" x2="214.90" y2="883.80" stroke="#9a9a9a" stroke-width="0.8" />
<line x1="39.50" y1="738.60" x2="39.50" y2="884.20" stroke="#333" stroke-width="0.8" />
<line x1="39.10" y1="883.80" x2="214.90" y2="883.80" stroke="#333" stroke-width="0.8" />
<polyline points="46.50,744.11 52.04,746.89 57.59,750.22 63.14,754.38 67.30,758.54 71.46,760.76 77.01,764.09 82.56,768.25 88.10,772.41 93.65,777.96" fill="none" stroke="#000" stroke-width="3.0" stroke-linejoin="round" stroke-linecap="round"/>
<polyline points="93.65,777.96 97.81,783.50 101.97,787.67 106.14,789.61 109.74,791.83" fill="none" stroke="#000" stroke-width="2.1" stroke-linejoin="round" stroke-linecap="round"/>
<polyline points="109.34,791.03 110.45,791.03 110.45,795.19 112.12,795.19 112.12,800.74 115.44,800.74 115.44,802.68 118.22,802.68 118.22,805.45 119.60,805.45 119.60,810.44 120.99,810.44 120.99,813.22 125.15,813.22 125.15,815.99 127.93,815.99 127.93,818.77 129.87,818.77 129.87,820.98" fill="none" stroke="#333" stroke-width="0.85"/>
<line x1="102.96" y1="785.90" x2="102.96" y2="789.50" stroke="#222" stroke-width="0.7" />
<line x1="107.68" y1="788.12" x2="107.68" y2="791.72" stroke="#222" stroke-width="0.7" />
<line x1="113.22" y1="799.77" x2="113.22" y2="803.37" stroke="#222" stroke-width="0.7" />
<line x1="117.39" y1="803.10" x2="117.39" y2="806.70" stroke="#222" stroke-width="0.7" />
<line x1="122.38" y1="812.80" x2="122.38" y2="816.40" stroke="#222" stroke-width="0.7" />
<line x1="126.54" y1="815.58" x2="126.54" y2="819.18" stroke="#222" stroke-width="0.7" />
<line x1="129.87" y1="820.98" x2="164.82" y2="820.98" stroke="#b5b5b5" stroke-width="0.8" />
<line x1="139.02" y1="819.38" x2="139.02" y2="822.58" stroke="#666" stroke-width="0.7" />
<line x1="140.96" y1="819.38" x2="140.96" y2="822.58" stroke="#666" stroke-width="0.7" />
<line x1="154.28" y1="819.38" x2="154.28" y2="822.58" stroke="#666" stroke-width="0.7" />
<line x1="164.82" y1="819.38" x2="164.82" y2="822.58" stroke="#666" stroke-width="0.7" />
<polyline points="167.32,821.54 167.32,827.09 169.81,827.09" fill="none" stroke="#444" stroke-width="0.8"/>
<line x1="170.37" y1="832.64" x2="186.18" y2="832.64" stroke="#c5c5c5" stroke-width="0.8" />
<line x1="180.08" y1="831.04" x2="180.08" y2="834.24" stroke="#666" stroke-width="0.7" />
<line x1="186.73" y1="840.40" x2="209.76" y2="840.40" stroke="#222" stroke-width="0.9" />
<line x1="203.65" y1="838.80" x2="203.65" y2="842.00" stroke="#222" stroke-width="0.7" />
<line x1="206.43" y1="838.80" x2="206.43" y2="842.00" stroke="#222" stroke-width="0.7" />
<polyline points="51.09,744.42 51.09,763.29" fill="none" stroke="#f9b4b4" stroke-width="0.8"/>
<polyline points="51.09,763.29 69.40,763.29" fill="none" stroke="#f36a6a" stroke-width="0.8"/>
<polyline points="69.40,763.29 69.40,820.15 73.83,820.15" fill="none" stroke="#f0403a" stroke-width="0.9"/>
<polyline points="73.83,820.15 73.83,879.79" fill="none" stroke="#f7a6a6" stroke-width="0.8"/>
<text x="31.30" y="743.50" font-size="7.6" font-family="Liberation Sans, Arial, sans-serif" fill="#222" text-anchor="middle" transform="rotate(-90 31.30 743.50)">1.0</text>
<line x1="37.10" y1="770.62" x2="39.50" y2="770.62" stroke="#555" stroke-width="0.7" />
<text x="31.30" y="770.62" font-size="7.6" font-family="Liberation Sans, Arial, sans-serif" fill="#222" text-anchor="middle" transform="rotate(-90 31.30 770.62)">0.8</text>
<text x="31.30" y="797.74" font-size="7.6" font-family="Liberation Sans, Arial, sans-serif" fill="#222" text-anchor="middle" transform="rotate(-90 31.30 797.74)">0.6</text>
<line x1="37.10" y1="824.86" x2="39.50" y2="824.86" stroke="#555" stroke-width="0.7" />
<text x="31.30" y="824.86" font-size="7.6" font-family="Liberation Sans, Arial, sans-serif" fill="#222" text-anchor="middle" transform="rotate(-90 31.30 824.86)">0.4</text>
<text x="31.30" y="851.98" font-size="7.6" font-family="Liberation Sans, Arial, sans-serif" fill="#222" text-anchor="middle" transform="rotate(-90 31.30 851.98)">0.2</text>
<line x1="37.10" y1="879.10" x2="39.50" y2="879.10" stroke="#555" stroke-width="0.7" />
<text x="31.30" y="879.10" font-size="7.6" font-family="Liberation Sans, Arial, sans-serif" fill="#222" text-anchor="middle" transform="rotate(-90 31.30 879.10)">0.0</text>
<line x1="45.80" y1="883.80" x2="45.80" y2="886.00" stroke="#555" stroke-width="0.7" />
<text x="45.80" y="895.30" font-size="7.6" font-family="Liberation Sans, Arial, sans-serif" fill="#222" text-anchor="middle">0</text>
<line x1="74.10" y1="883.80" x2="74.10" y2="886.00" stroke="#555" stroke-width="0.7" />
<text x="74.10" y="895.30" font-size="7.6" font-family="Liberation Sans, Arial, sans-serif" fill="#222" text-anchor="middle">50</text>
<line x1="102.40" y1="883.80" x2="102.40" y2="886.00" stroke="#555" stroke-width="0.7" />
<text x="102.40" y="895.30" font-size="7.6" font-family="Liberation Sans, Arial, sans-serif" fill="#222" text-anchor="middle">100</text>
<line x1="130.70" y1="883.80" x2="130.70" y2="886.00" stroke="#555" stroke-width="0.7" />
<text x="130.70" y="895.30" font-size="7.6" font-family="Liberation Sans, Arial, sans-serif" fill="#222" text-anchor="middle">150</text>
<line x1="159.00" y1="883.80" x2="159.00" y2="886.00" stroke="#555" stroke-width="0.7" />
<text x="159.00" y="895.30" font-size="7.6" font-family="Liberation Sans, Arial, sans-serif" fill="#222" text-anchor="middle">200</text>
<line x1="187.30" y1="883.80" x2="187.30" y2="886.00" stroke="#555" stroke-width="0.7" />
<text x="187.30" y="895.30" font-size="7.6" font-family="Liberation Sans, Arial, sans-serif" fill="#222" text-anchor="middle">250</text>
<text x="127.00" y="727.90" font-size="8" font-family="Liberation Sans, Arial, sans-serif" fill="#000" text-anchor="middle" font-weight="bold">SERPINA1</text>
<text x="127.00" y="907.60" font-size="7.8" font-family="Liberation Sans, Arial, sans-serif" fill="#222" text-anchor="middle">Time (months)</text>
<text x="18.60" y="811.00" font-size="7.8" font-family="Liberation Sans, Arial, sans-serif" fill="#222" text-anchor="middle" transform="rotate(-90 18.60 811.00)">Probability</text>
<text x="211.20" y="748.60" font-size="8.0" font-family="Liberation Sans, Arial, sans-serif" fill="#222" text-anchor="end">HR = 6.55 (2.07 − 20.75)</text>
<text x="211.20" y="758.10" font-size="8.0" font-family="Liberation Sans, Arial, sans-serif" fill="#222" text-anchor="end">logrank P = 0.00023</text>
<text x="56.40" y="858.60" font-size="7.8" font-family="Liberation Sans, Arial, sans-serif" fill="#222">Variant type</text>
<text x="67.50" y="869.80" font-size="7.8" font-family="Liberation Sans, Arial, sans-serif" fill="#222">wild type</text>
<text x="67.50" y="878.20" font-size="7.8" font-family="Liberation Sans, Arial, sans-serif" fill="#222">all mutations</text>
<line x1="46.30" y1="867.00" x2="60.40" y2="867.00" stroke="#8c8c8c" stroke-width="1.1" />
<rect x="45.80" y="877.60" width="0.70" height="0.70" fill="#555" />
<text x="39.60" y="913.60" font-size="5.3" font-family="Liberation Sans, Arial, sans-serif" fill="#222">Number at risk</text>
<text x="31.40" y="919.80" font-size="5.3" font-family="Liberation Sans, Arial, sans-serif" fill="#222" text-anchor="end">wild type</text>
<g clip-path="url(#clipE1)">
<text x="31.40" y="926.20" font-size="5.3" font-family="Liberation Sans, Arial, sans-serif" fill="#e33" text-anchor="end">all mutations</text>
</g>
<text x="45.80" y="919.80" font-size="5.3" font-family="Liberation Sans, Arial, sans-serif" fill="#222" text-anchor="middle">1090</text>
<text x="45.80" y="926.20" font-size="5.3" font-family="Liberation Sans, Arial, sans-serif" fill="#e33" text-anchor="middle">7</text>
<text x="74.10" y="919.80" font-size="5.3" font-family="Liberation Sans, Arial, sans-serif" fill="#222" text-anchor="middle">322</text>
<text x="74.10" y="926.20" font-size="5.3" font-family="Liberation Sans, Arial, sans-serif" fill="#e33" text-anchor="middle">1</text>
<text x="102.40" y="919.80" font-size="5.3" font-family="Liberation Sans, Arial, sans-serif" fill="#222" text-anchor="middle">90</text>
<text x="102.40" y="926.20" font-size="5.3" font-family="Liberation Sans, Arial, sans-serif" fill="#e33" text-anchor="middle">0</text>
<text x="130.70" y="919.80" font-size="5.3" font-family="Liberation Sans, Arial, sans-serif" fill="#222" text-anchor="middle">18</text>
<text x="130.70" y="926.20" font-size="5.3" font-family="Liberation Sans, Arial, sans-serif" fill="#e33" text-anchor="middle">0</text>
<text x="159.00" y="919.80" font-size="5.3" font-family="Liberation Sans, Arial, sans-serif" fill="#222" text-anchor="middle">11</text>
<text x="159.00" y="926.20" font-size="5.3" font-family="Liberation Sans, Arial, sans-serif" fill="#e33" text-anchor="middle">0</text>
<text x="187.30" y="919.80" font-size="5.3" font-family="Liberation Sans, Arial, sans-serif" fill="#222" text-anchor="middle">5</text>
<text x="187.30" y="926.20" font-size="5.3" font-family="Liberation Sans, Arial, sans-serif" fill="#e33" text-anchor="middle">0</text>
<text x="119.20" y="958.30" font-size="13.4" font-family="Liberation Sans, Arial, sans-serif" fill="#111" text-anchor="middle" font-weight="bold">BRCA</text>
<line x1="258.90" y1="738.60" x2="432.30" y2="738.60" stroke="#c8c8c8" stroke-width="0.8" />
<line x1="432.30" y1="738.60" x2="432.30" y2="883.80" stroke="#9a9a9a" stroke-width="0.8" />
<line x1="258.90" y1="738.60" x2="258.90" y2="884.20" stroke="#333" stroke-width="0.8" />
<line x1="258.50" y1="883.80" x2="432.30" y2="883.80" stroke="#333" stroke-width="0.8" />
<polyline points="265.54,743.31 268.87,746.09 273.03,749.97" fill="none" stroke="#000" stroke-width="1.5" stroke-linejoin="round" stroke-linecap="round"/>
<polyline points="273.03,749.97 277.19,754.41 281.35,757.74 285.51,761.90 289.67,767.45 293.83,771.61 299.38,774.38 304.93,775.21 310.48,777.16 316.03,778.54" fill="none" stroke="#000" stroke-width="2.3" stroke-linejoin="round" stroke-linecap="round"/>
<polyline points="316.03,778.54 320.19,780.76 335.44,780.76" fill="none" stroke="#444" stroke-width="1.0"/>
<line x1="321.02" y1="779.16" x2="321.02" y2="782.36" stroke="#111" stroke-width="0.8" />
<line x1="323.24" y1="779.16" x2="323.24" y2="782.36" stroke="#111" stroke-width="0.8" />
<line x1="325.46" y1="779.16" x2="325.46" y2="782.36" stroke="#111" stroke-width="0.8" />
<line x1="327.68" y1="779.16" x2="327.68" y2="782.36" stroke="#111" stroke-width="0.8" />
<line x1="329.90" y1="779.16" x2="329.90" y2="782.36" stroke="#111" stroke-width="0.8" />
<line x1="332.12" y1="779.16" x2="332.12" y2="782.36" stroke="#111" stroke-width="0.8" />
<line x1="334.33" y1="779.16" x2="334.33" y2="782.36" stroke="#111" stroke-width="0.8" />
<polyline points="335.44,780.76 339.60,780.76 339.60,786.87 343.21,786.87 343.21,800.74 345.15,800.74 345.15,811.83 397.86,811.83" fill="none" stroke="#cfcfcf" stroke-width="0.8"/>
<line x1="343.21" y1="791.58" x2="343.21" y2="799.35" stroke="#222" stroke-width="0.8" />
<line x1="341.82" y1="791.58" x2="344.60" y2="791.58" stroke="#222" stroke-width="0.7" />
<line x1="342.10" y1="797.96" x2="344.32" y2="797.96" stroke="#222" stroke-width="0.7" />
<line x1="345.15" y1="804.90" x2="345.15" y2="812.39" stroke="#777" stroke-width="0.8" />
<line x1="346.54" y1="810.23" x2="346.54" y2="813.43" stroke="#555" stroke-width="0.7" />
<line x1="349.31" y1="810.23" x2="349.31" y2="813.43" stroke="#555" stroke-width="0.7" />
<line x1="354.31" y1="810.23" x2="354.31" y2="813.43" stroke="#555" stroke-width="0.7" />
<line x1="357.64" y1="810.23" x2="357.64" y2="813.43" stroke="#555" stroke-width="0.7" />
<line x1="362.63" y1="810.23" x2="362.63" y2="813.43" stroke="#555" stroke-width="0.7" />
<line x1="397.86" y1="810.23" x2="397.86" y2="813.43" stroke="#555" stroke-width="0.7" />
<polyline points="274.42,743.87 274.42,752.75" fill="none" stroke="#f7a0a0" stroke-width="0.8"/>
<line x1="274.42" y1="752.75" x2="426.98" y2="752.75" stroke="#f03030" stroke-width="0.9" />
<line x1="277.75" y1="751.15" x2="277.75" y2="754.35" stroke="#e22" stroke-width="0.7" />
<line x1="279.97" y1="751.15" x2="279.97" y2="754.35" stroke="#e22" stroke-width="0.7" />
<line x1="281.63" y1="751.15" x2="281.63" y2="754.35" stroke="#e22" stroke-width="0.7" />
<line x1="284.13" y1="751.15" x2="284.13" y2="754.35" stroke="#e22" stroke-width="0.7" />
<line x1="292.45" y1="751.15" x2="292.45" y2="754.35" stroke="#e22" stroke-width="0.7" />
<line x1="300.77" y1="751.15" x2="300.77" y2="754.35" stroke="#e22" stroke-width="0.7" />
<line x1="305.76" y1="751.15" x2="305.76" y2="754.35" stroke="#e22" stroke-width="0.7" />
<line x1="319.36" y1="751.15" x2="319.36" y2="754.35" stroke="#e22" stroke-width="0.7" />
<line x1="265.54" y1="741.71" x2="265.54" y2="744.91" stroke="#e22" stroke-width="0.7" />
<line x1="267.21" y1="742.82" x2="267.21" y2="746.02" stroke="#e22" stroke-width="0.7" />
<text x="250.60" y="743.70" font-size="7.6" font-family="Liberation Sans, Arial, sans-serif" fill="#222" text-anchor="middle" transform="rotate(-90 250.60 743.70)">1.0</text>
<line x1="256.50" y1="770.57" x2="258.90" y2="770.57" stroke="#555" stroke-width="0.7" />
<text x="250.60" y="770.57" font-size="7.6" font-family="Liberation Sans, Arial, sans-serif" fill="#222" text-anchor="middle" transform="rotate(-90 250.60 770.57)">0.8</text>
<text x="250.60" y="797.44" font-size="7.6" font-family="Liberation Sans, Arial, sans-serif" fill="#222" text-anchor="middle" transform="rotate(-90 250.60 797.44)">0.6</text>
<line x1="256.50" y1="824.31" x2="258.90" y2="824.31" stroke="#555" stroke-width="0.7" />
<text x="250.60" y="824.31" font-size="7.6" font-family="Liberation Sans, Arial, sans-serif" fill="#222" text-anchor="middle" transform="rotate(-90 250.60 824.31)">0.4</text>
<text x="250.60" y="851.18" font-size="7.6" font-family="Liberation Sans, Arial, sans-serif" fill="#222" text-anchor="middle" transform="rotate(-90 250.60 851.18)">0.2</text>
<line x1="256.50" y1="878.05" x2="258.90" y2="878.05" stroke="#555" stroke-width="0.7" />
<text x="250.60" y="878.05" font-size="7.6" font-family="Liberation Sans, Arial, sans-serif" fill="#222" text-anchor="middle" transform="rotate(-90 250.60 878.05)">0.0</text>
<line x1="265.30" y1="883.80" x2="265.30" y2="886.00" stroke="#555" stroke-width="0.7" />
<text x="265.30" y="895.30" font-size="7.6" font-family="Liberation Sans, Arial, sans-serif" fill="#222" text-anchor="middle">0</text>
<line x1="300.30" y1="883.80" x2="300.30" y2="886.00" stroke="#555" stroke-width="0.7" />
<text x="300.30" y="895.30" font-size="7.6" font-family="Liberation Sans, Arial, sans-serif" fill="#222" text-anchor="middle">50</text>
<line x1="335.30" y1="883.80" x2="335.30" y2="886.00" stroke="#555" stroke-width="0.7" />
<text x="335.30" y="895.30" font-size="7.6" font-family="Liberation Sans, Arial, sans-serif" fill="#222" text-anchor="middle">100</text>
<line x1="370.30" y1="883.80" x2="370.30" y2="886.00" stroke="#555" stroke-width="0.7" />
<text x="370.30" y="895.30" font-size="7.6" font-family="Liberation Sans, Arial, sans-serif" fill="#222" text-anchor="middle">150</text>
<line x1="405.30" y1="883.80" x2="405.30" y2="886.00" stroke="#555" stroke-width="0.7" />
<text x="405.30" y="895.30" font-size="7.6" font-family="Liberation Sans, Arial, sans-serif" fill="#222" text-anchor="middle">200</text>
<text x="345.00" y="727.90" font-size="8" font-family="Liberation Sans, Arial, sans-serif" fill="#000" text-anchor="middle" font-weight="bold">SERPINA1</text>
<text x="345.50" y="907.60" font-size="7.8" font-family="Liberation Sans, Arial, sans-serif" fill="#222" text-anchor="middle">Time (months)</text>
<text x="237.50" y="811.00" font-size="7.8" font-family="Liberation Sans, Arial, sans-serif" fill="#222" text-anchor="middle" transform="rotate(-90 237.50 811.00)">Probability</text>
<text x="428.90" y="748.60" font-size="8.0" font-family="Liberation Sans, Arial, sans-serif" fill="#222" text-anchor="end">HR = 0.29 (0.04 − 2.07)</text>
<text x="428.90" y="758.10" font-size="8.0" font-family="Liberation Sans, Arial, sans-serif" fill="#222" text-anchor="end">logrank P = 0.19</text>
<text x="275.40" y="858.60" font-size="7.8" font-family="Liberation Sans, Arial, sans-serif" fill="#222">Variant type</text>
<text x="286.50" y="869.80" font-size="7.8" font-family="Liberation Sans, Arial, sans-serif" fill="#222">wild type</text>
<text x="286.50" y="878.20" font-size="7.8" font-family="Liberation Sans, Arial, sans-serif" fill="#222">all mutations</text>
<line x1="265.30" y1="867.00" x2="279.40" y2="867.00" stroke="#8c8c8c" stroke-width="1.1" />
<rect x="264.90" y="877.60" width="0.70" height="0.70" fill="#555" />
<text x="258.30" y="913.60" font-size="5.3" font-family="Liberation Sans, Arial, sans-serif" fill="#222">Number at risk</text>
<text x="251.00" y="919.80" font-size="5.3" font-family="Liberation Sans, Arial, sans-serif" fill="#222" text-anchor="end">wild type</text>
<g clip-path="url(#clipE2)">
<text x="251.00" y="926.20" font-size="5.3" font-family="Liberation Sans, Arial, sans-serif" fill="#e33" text-anchor="end">all mutations</text>
</g>
<text x="265.30" y="919.80" font-size="5.3" font-family="Liberation Sans, Arial, sans-serif" fill="#222" text-anchor="middle">530</text>
<text x="265.30" y="926.20" font-size="5.3" font-family="Liberation Sans, Arial, sans-serif" fill="#e33" text-anchor="middle">17</text>
<text x="300.30" y="919.80" font-size="5.3" font-family="Liberation Sans, Arial, sans-serif" fill="#222" text-anchor="middle">142</text>
<text x="300.30" y="926.20" font-size="5.3" font-family="Liberation Sans, Arial, sans-serif" fill="#e33" text-anchor="middle">6</text>
<text x="335.30" y="919.80" font-size="5.3" font-family="Liberation Sans, Arial, sans-serif" fill="#222" text-anchor="middle">19</text>
<text x="335.30" y="926.20" font-size="5.3" font-family="Liberation Sans, Arial, sans-serif" fill="#e33" text-anchor="middle">1</text>
<text x="370.30" y="919.80" font-size="5.3" font-family="Liberation Sans, Arial, sans-serif" fill="#222" text-anchor="middle">2</text>
<text x="370.30" y="926.20" font-size="5.3" font-family="Liberation Sans, Arial, sans-serif" fill="#e33" text-anchor="middle">1</text>
<text x="405.30" y="919.80" font-size="5.3" font-family="Liberation Sans, Arial, sans-serif" fill="#222" text-anchor="middle">0</text>
<text x="405.30" y="926.20" font-size="5.3" font-family="Liberation Sans, Arial, sans-serif" fill="#e33" text-anchor="middle">1</text>
<text x="345.30" y="958.30" font-size="13.4" font-family="Liberation Sans, Arial, sans-serif" fill="#111" text-anchor="middle" font-weight="bold">UCEC</text>
<rect x="480.8" y="739.5" width="177.60" height="141.90" fill="none" stroke="#555" stroke-width="0.8"/>
<polyline points="486.65,746.09 490.26,752.19 494.42,759.13 498.58,767.45 502.74,775.77 506.90,781.32 511.06,785.48 515.22,791.03 519.38,797.96 523.54,802.68 527.70,804.90" fill="none" stroke="#000" stroke-width="2.4" stroke-linejoin="round" stroke-linecap="round"/>
<polyline points="527.70,804.90 528.40,804.90 528.40,805.59 529.09,805.59 529.09,806.28 531.87,806.28 531.87,808.09 534.64,808.09 534.64,809.89 538.11,809.89 538.11,811.55 541.57,811.55 541.57,813.22 544.35,813.22 544.35,815.71 547.12,815.71 547.12,818.21 549.90,818.21 549.90,819.88 552.67,819.88 552.67,821.54 555.44,821.54 555.44,823.62 558.22,823.62 558.22,825.70 560.99,825.70 560.99,827.36 563.77,827.36 563.77,829.03 566.54,829.03 566.54,830.14 569.31,830.14 569.31,831.25 572.09,831.25 572.09,833.05 574.86,833.05 574.86,834.85 577.64,834.85 577.64,835.83 580.41,835.83 580.41,836.80 583.18,836.80 583.18,837.91 585.96,837.91 585.96,839.02 588.73,839.02 588.73,840.40 591.50,840.40 591.50,841.79 594.97,841.79 594.97,842.76 598.44,842.76 598.44,843.73 601.91,843.73 601.91,844.42 605.37,844.42 605.37,845.12 608.15,845.12 608.15,847.48 610.92,847.48 610.92,849.83 629.79,849.83 629.79,849.83 629.79,849.83 629.79,856.77 651.70,856.77 651.70,856.77 651.70,856.77 651.70,876.19" fill="none" stroke="#333" stroke-width="0.9"/>
<polyline points="527.70,804.90 529.09,806.28 534.64,809.89 541.57,813.22 547.12,818.21 552.67,821.54 558.22,825.70 563.77,829.03" fill="none" stroke="#111" stroke-width="1.9" stroke-linejoin="round" stroke-linecap="round"/>
<polyline points="563.77,829.03 569.31,831.25 574.86,834.85 580.41,836.80 585.96,839.02 591.50,841.79 598.44,843.73 605.37,845.12" fill="none" stroke="#222" stroke-width="1.3" stroke-linejoin="round" stroke-linecap="round"/>
<line x1="530.57" y1="808.50" x2="533.17" y2="808.50" stroke="#333" stroke-width="0.6" />
<line x1="531.87" y1="807.20" x2="531.87" y2="809.80" stroke="#333" stroke-width="0.6" />
<line x1="536.11" y1="811.00" x2="538.71" y2="811.00" stroke="#333" stroke-width="0.6" />
<line x1="537.41" y1="809.70" x2="537.41" y2="812.30" stroke="#333" stroke-width="0.6" />
<line x1="538.89" y1="812.66" x2="541.49" y2="812.66" stroke="#333" stroke-width="0.6" />
<line x1="540.19" y1="811.36" x2="540.19" y2="813.96" stroke="#333" stroke-width="0.6" />
<line x1="543.05" y1="814.60" x2="545.65" y2="814.60" stroke="#333" stroke-width="0.6" />
<line x1="544.35" y1="813.30" x2="544.35" y2="815.90" stroke="#333" stroke-width="0.6" />
<line x1="548.60" y1="819.32" x2="551.20" y2="819.32" stroke="#333" stroke-width="0.6" />
<line x1="549.90" y1="818.02" x2="549.90" y2="820.62" stroke="#333" stroke-width="0.6" />
<line x1="552.76" y1="822.37" x2="555.36" y2="822.37" stroke="#333" stroke-width="0.6" />
<line x1="554.06" y1="821.07" x2="554.06" y2="823.67" stroke="#333" stroke-width="0.6" />
<line x1="561.08" y1="828.47" x2="563.68" y2="828.47" stroke="#333" stroke-width="0.6" />
<line x1="562.38" y1="827.17" x2="562.38" y2="829.77" stroke="#333" stroke-width="0.6" />
<line x1="565.24" y1="829.86" x2="567.84" y2="829.86" stroke="#333" stroke-width="0.6" />
<line x1="566.54" y1="828.56" x2="566.54" y2="831.16" stroke="#333" stroke-width="0.6" />
<line x1="570.79" y1="833.19" x2="573.39" y2="833.19" stroke="#333" stroke-width="0.6" />
<line x1="572.09" y1="831.89" x2="572.09" y2="834.49" stroke="#333" stroke-width="0.6" />
<line x1="581.88" y1="837.63" x2="584.48" y2="837.63" stroke="#333" stroke-width="0.6" />
<line x1="583.18" y1="836.33" x2="583.18" y2="838.93" stroke="#333" stroke-width="0.6" />
<line x1="584.10" y1="838.46" x2="586.70" y2="838.46" stroke="#333" stroke-width="0.6" />
<line x1="585.40" y1="837.16" x2="585.40" y2="839.76" stroke="#333" stroke-width="0.6" />
<line x1="591.04" y1="842.34" x2="593.64" y2="842.34" stroke="#333" stroke-width="0.6" />
<line x1="592.34" y1="841.04" x2="592.34" y2="843.64" stroke="#333" stroke-width="0.6" />
<line x1="598.53" y1="844.29" x2="601.13" y2="844.29" stroke="#333" stroke-width="0.6" />
<line x1="599.83" y1="842.99" x2="599.83" y2="845.59" stroke="#333" stroke-width="0.6" />
<line x1="601.30" y1="844.56" x2="603.90" y2="844.56" stroke="#333" stroke-width="0.6" />
<line x1="602.60" y1="843.26" x2="602.60" y2="845.86" stroke="#333" stroke-width="0.6" />
<line x1="611.84" y1="849.83" x2="614.44" y2="849.83" stroke="#333" stroke-width="0.6" />
<line x1="613.14" y1="848.53" x2="613.14" y2="851.13" stroke="#333" stroke-width="0.6" />
<line x1="617.94" y1="849.83" x2="620.54" y2="849.83" stroke="#333" stroke-width="0.6" />
<line x1="619.24" y1="848.53" x2="619.24" y2="851.13" stroke="#333" stroke-width="0.6" />
<line x1="628.49" y1="849.83" x2="631.09" y2="849.83" stroke="#333" stroke-width="0.6" />
<line x1="629.79" y1="848.53" x2="629.79" y2="851.13" stroke="#333" stroke-width="0.6" />
<line x1="631.81" y1="856.77" x2="634.41" y2="856.77" stroke="#333" stroke-width="0.6" />
<line x1="633.11" y1="855.47" x2="633.11" y2="858.07" stroke="#333" stroke-width="0.6" />
<line x1="633.76" y1="856.77" x2="636.36" y2="856.77" stroke="#333" stroke-width="0.6" />
<line x1="635.06" y1="855.47" x2="635.06" y2="858.07" stroke="#333" stroke-width="0.6" />
<polyline points="486.65,745.26 499.97,745.26 499.97,810.44 527.70,810.44" fill="none" stroke="#f66" stroke-width="0.8"/>
<line x1="488.96" y1="745.26" x2="491.56" y2="745.26" stroke="#e33" stroke-width="0.6" />
<line x1="490.26" y1="743.96" x2="490.26" y2="746.56" stroke="#e33" stroke-width="0.6" />
<line x1="498.11" y1="745.26" x2="500.71" y2="745.26" stroke="#e33" stroke-width="0.6" />
<line x1="499.41" y1="743.96" x2="499.41" y2="746.56" stroke="#e33" stroke-width="0.6" />
<line x1="525.85" y1="810.44" x2="528.45" y2="810.44" stroke="#e33" stroke-width="0.6" />
<line x1="527.15" y1="809.14" x2="527.15" y2="811.74" stroke="#e33" stroke-width="0.6" />
<line x1="478.40" y1="744.80" x2="480.80" y2="744.80" stroke="#444" stroke-width="0.7" />
<text x="472.60" y="744.80" font-size="8.3" font-family="DejaVu Sans, sans-serif" fill="#333" text-anchor="middle" transform="rotate(-90 472.60 744.80)">1.0</text>
<line x1="478.40" y1="771.08" x2="480.80" y2="771.08" stroke="#444" stroke-width="0.7" />
<text x="472.60" y="771.08" font-size="8.3" font-family="DejaVu Sans, sans-serif" fill="#333" text-anchor="middle" transform="rotate(-90 472.60 771.08)">0.8</text>
<line x1="478.40" y1="797.36" x2="480.80" y2="797.36" stroke="#444" stroke-width="0.7" />
<text x="472.60" y="797.36" font-size="8.3" font-family="DejaVu Sans, sans-serif" fill="#333" text-anchor="middle" transform="rotate(-90 472.60 797.36)">0.6</text>
<line x1="478.40" y1="823.64" x2="480.80" y2="823.64" stroke="#444" stroke-width="0.7" />
<text x="472.60" y="823.64" font-size="8.3" font-family="DejaVu Sans, sans-serif" fill="#333" text-anchor="middle" transform="rotate(-90 472.60 823.64)">0.4</text>
<line x1="478.40" y1="849.92" x2="480.80" y2="849.92" stroke="#444" stroke-width="0.7" />
<text x="472.60" y="849.92" font-size="8.3" font-family="DejaVu Sans, sans-serif" fill="#333" text-anchor="middle" transform="rotate(-90 472.60 849.92)">0.2</text>
<line x1="478.40" y1="876.20" x2="480.80" y2="876.20" stroke="#444" stroke-width="0.7" />
<text x="472.60" y="876.20" font-size="8.3" font-family="DejaVu Sans, sans-serif" fill="#333" text-anchor="middle" transform="rotate(-90 472.60 876.20)">0.0</text>
<line x1="486.60" y1="881.40" x2="486.60" y2="883.80" stroke="#444" stroke-width="0.7" />
<text x="486.60" y="893.60" font-size="8.3" font-family="DejaVu Sans, sans-serif" fill="#222" text-anchor="middle">0</text>
<line x1="533.50" y1="881.40" x2="533.50" y2="883.80" stroke="#444" stroke-width="0.7" />
<text x="533.50" y="893.60" font-size="8.3" font-family="DejaVu Sans, sans-serif" fill="#222" text-anchor="middle">50</text>
<line x1="580.40" y1="881.40" x2="580.40" y2="883.80" stroke="#444" stroke-width="0.7" />
<text x="580.40" y="893.60" font-size="8.3" font-family="DejaVu Sans, sans-serif" fill="#222" text-anchor="middle">100</text>
<line x1="627.30" y1="881.40" x2="627.30" y2="883.80" stroke="#444" stroke-width="0.7" />
<text x="627.30" y="893.60" font-size="8.3" font-family="DejaVu Sans, sans-serif" fill="#222" text-anchor="middle">150</text>
<text x="569.20" y="729.00" font-size="8.6" font-family="DejaVu Sans, sans-serif" fill="#000" text-anchor="middle" font-weight="bold">SERPINA1</text>
<text x="569.20" y="906.20" font-size="8.6" font-family="DejaVu Sans, sans-serif" fill="#222" text-anchor="middle">Time (months)</text>
<g clip-path="url(#clipE3)">
<text x="458.30" y="811.00" font-size="8.6" font-family="DejaVu Sans, sans-serif" fill="#222" text-anchor="middle" transform="rotate(-90 458.30 811.00)">Probability</text>
<text x="471.00" y="919.20" font-size="5.7" font-family="DejaVu Sans, sans-serif" fill="#222" text-anchor="end">wild type</text>
<text x="471.00" y="925.60" font-size="5.7" font-family="DejaVu Sans, sans-serif" fill="#e33" text-anchor="end">all mutations</text>
</g>
<text x="655.10" y="750.40" font-size="8.6" font-family="DejaVu Sans, sans-serif" fill="#222" text-anchor="end">HR = 0.94 (0.13 - 6.68)</text>
<text x="655.10" y="760.00" font-size="8.6" font-family="DejaVu Sans, sans-serif" fill="#222" text-anchor="end">logrank P = 0.95</text>
<text x="499.40" y="855.00" font-size="8.6" font-family="DejaVu Sans, sans-serif" fill="#222">Variant type</text>
<text x="510.50" y="867.00" font-size="8.6" font-family="DejaVu Sans, sans-serif" fill="#222">wild type</text>
<text x="510.50" y="876.10" font-size="8.6" font-family="DejaVu Sans, sans-serif" fill="#222">all mutations</text>
<line x1="487.50" y1="864.00" x2="502.70" y2="864.00" stroke="#444" stroke-width="0.6" />
<line x1="487.50" y1="873.10" x2="502.70" y2="873.10" stroke="#f66" stroke-width="0.6" />
<text x="480.20" y="912.80" font-size="5.7" font-family="DejaVu Sans, sans-serif" fill="#222">Number at risk</text>
<text x="486.60" y="919.20" font-size="5.7" font-family="DejaVu Sans, sans-serif" fill="#222" text-anchor="middle">494</text>
<text x="486.60" y="925.60" font-size="5.7" font-family="DejaVu Sans, sans-serif" fill="#e33" text-anchor="middle">4</text>
<text x="533.50" y="919.20" font-size="5.7" font-family="DejaVu Sans, sans-serif" fill="#222" text-anchor="middle">105</text>
<text x="533.50" y="925.60" font-size="5.7" font-family="DejaVu Sans, sans-serif" fill="#e33" text-anchor="middle">0</text>
<text x="580.40" y="919.20" font-size="5.7" font-family="DejaVu Sans, sans-serif" fill="#222" text-anchor="middle">27</text>
<text x="580.40" y="925.60" font-size="5.7" font-family="DejaVu Sans, sans-serif" fill="#e33" text-anchor="middle">0</text>
<text x="627.30" y="919.20" font-size="5.7" font-family="DejaVu Sans, sans-serif" fill="#222" text-anchor="middle">5</text>
<text x="627.30" y="925.60" font-size="5.7" font-family="DejaVu Sans, sans-serif" fill="#e33" text-anchor="middle">0</text>
<text x="573.20" y="958.30" font-size="13.4" font-family="Liberation Sans, Arial, sans-serif" fill="#111" text-anchor="middle" font-weight="bold">SKCM</text>
<text x="1.60" y="10.90" font-size="14" font-family="Liberation Serif, Times New Roman, serif" fill="#000" font-weight="bold">A</text>
<g clip-path="url(#clipB)">
<text x="352.40" y="10.90" font-size="14" font-family="Liberation Serif, Times New Roman, serif" fill="#000" font-weight="bold">B</text>
</g>
<text x="2.00" y="217.00" font-size="14" font-family="Liberation Serif, Times New Roman, serif" fill="#000" font-weight="bold">C</text>
<text x="2.00" y="386.50" font-size="14" font-family="Liberation Serif, Times New Roman, serif" fill="#000" font-weight="bold">D</text>
<text x="3.00" y="704.00" font-size="14" font-family="Liberation Serif, Times New Roman, serif" fill="#000" font-weight="bold">E</text>
</svg>
</body></html>
